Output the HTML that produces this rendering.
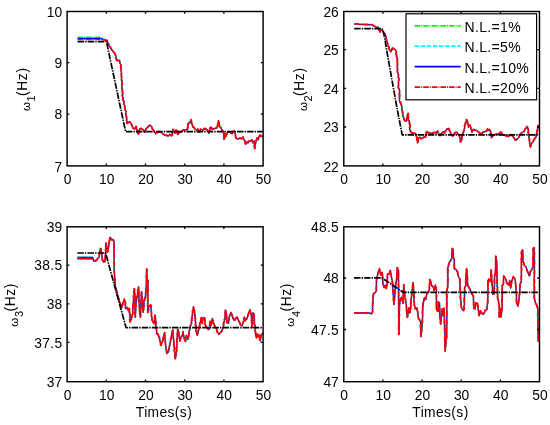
<!DOCTYPE html>
<html lang="en">
<head>
<meta charset="utf-8">
<title>Figure</title>
<style>
html,body{margin:0;padding:0;background:#fff;}
body{width:550px;height:425px;overflow:hidden;position:relative;font-family:"Liberation Sans",sans-serif;}
</style>
</head>
<body>
<svg width="550" height="425" viewBox="0 0 550 425" style="display:block;position:absolute;left:0;top:0" font-family='"Liberation Sans", sans-serif' font-size="13.8" fill="#000">
<rect x="0" y="0" width="550" height="425" fill="#fff"/>
<g>
<polyline fill="none" stroke-linejoin="round" stroke-linecap="butt" stroke="#00ff00" stroke-width="1.4" stroke-dasharray="5.6 0.9 1.1 0.9" points="77.6,37.3 100.5,37.3 102.5,38.8 104.5,39.6"/>
<polyline fill="none" stroke-linejoin="round" stroke-linecap="butt" stroke="#00ffff" stroke-width="1.2" stroke-dasharray="4.5 1.6" points="77.6,38.4 101.0,38.4 104.0,38.8 105.5,39.8"/>
<polyline fill="none" stroke-linejoin="round" stroke-linecap="butt" stroke="#0000ff" stroke-width="1.4" points="77.6,38.5 101.0,38.5 103.0,39.7"/>
<polyline fill="none" stroke-linejoin="round" stroke-linecap="butt" stroke="#ff0000" stroke-width="1.35" stroke-dasharray="5.4 0.9 1.3 0.9" points="77.6,39.6 101.0,39.6 103.6,40.1"/>
<polyline fill="none" stroke-linejoin="round" stroke-linecap="butt" stroke="#00ff00" stroke-width="0.8" points="103.7,40.3 107.0,40.4 110.0,46.8 113.6,52.2 115.4,54.0 116.6,60.0 119.6,60.6 121.2,66.0 121.6,77.0 123.0,99.8 123.8,101.2 125.2,108.6 126.8,117.0 127.2,123.6 129.7,121.8 131.2,123.7 133.2,128.4 134.7,129.2 136.2,126.6 137.6,133.2 138.7,134.2 140.2,128.4 142.2,129.2 143.7,130.2 144.8,132.6 146.2,129.2 148.2,127.2 150.2,125.4 151.2,126.2 152.7,129.2 154.2,131.2 155.7,133.8 157.2,132.7 159.2,131.7 161.2,132.2 163.2,134.2 166.2,135.4 168.2,136.2 170.2,134.7 172.2,135.7 173.2,129.6 175.2,133.2 176.2,130.2 178.2,134.4 180.2,132.2 182.2,131.2 184.2,130.2 186.2,129.7 187.7,129.7 188.7,123.0 190.2,123.2 191.2,120.0 192.2,125.2 193.2,127.2 195.2,129.2 197.2,130.7 198.2,129.2 199.2,132.2 201.2,129.2 203.2,130.2 205.2,128.7 207.2,129.7 208.7,131.2 209.2,133.2 210.7,127.2 212.2,129.2 214.2,128.7 216.2,128.2 217.7,126.7 218.7,120.8 219.7,126.2 221.2,128.2 222.7,130.7 223.7,132.2 224.2,139.2 225.2,134.2 226.2,136.2 227.2,133.2 228.7,131.7 230.2,132.7 232.2,133.7 233.7,131.2 234.7,131.2 235.7,137.2 236.7,138.7 238.2,139.2 240.2,138.2 242.2,138.7 243.2,137.2 244.2,140.2 245.2,141.2 245.7,144.2 247.2,142.2 248.2,143.2 249.2,141.2 251.2,141.2 252.2,140.2 253.2,143.2 254.2,141.2 254.8,148.7 255.7,143.2 256.1,141.2 257.1,138.2 258.1,140.2 259.1,137.2 260.1,135.2 261.1,136.2 262.1,136.2 262.9,137.2"/>
<polyline fill="none" stroke-linejoin="round" stroke-linecap="butt" stroke="#00ffff" stroke-width="1.0" points="103.8,40.4 107.1,40.5 107.5,41.3 108.0,42.4 108.4,43.8 108.8,44.1 109.2,45.1 109.7,46.1 110.1,46.9 110.7,47.4 111.3,48.7 111.9,49.8 112.5,50.9 113.1,50.8 113.7,52.3 114.6,52.9 115.5,54.1 115.4,55.1 116.1,56.1 116.2,57.1 116.0,58.1 116.8,59.1 116.7,60.1 117.7,61.0 118.7,60.7 119.7,60.7 120.1,61.8 120.1,62.9 120.3,63.9 121.0,65.0 121.3,66.1 121.0,67.1 121.2,68.1 121.2,69.1 121.1,70.1 121.5,71.1 121.5,72.1 121.8,73.1 121.6,74.1 121.7,75.1 121.7,76.1 121.7,77.1 121.9,78.1 121.8,79.2 121.7,80.2 122.3,81.2 122.4,82.3 122.3,83.3 122.3,84.4 122.1,85.4 122.1,86.4 122.2,87.5 122.1,88.5 122.7,89.5 122.5,90.6 122.8,91.6 122.6,92.6 123.0,93.7 123.0,94.7 122.5,95.8 122.7,96.8 123.3,97.8 123.0,98.9 123.1,99.9 123.9,101.3 124.4,102.4 124.2,103.4 124.2,104.5 124.8,105.5 125.1,106.6 124.9,107.6 125.3,108.7 125.2,109.8 125.6,110.8 126.2,111.8 126.3,112.9 126.0,114.0 126.3,115.0 126.4,116.0 126.9,117.1 126.7,118.2 127.2,119.3 126.9,120.4 127.2,121.5 127.2,122.6 127.3,123.7 128.1,122.7 129.0,122.8 129.8,121.9 130.6,122.3 131.3,123.8 131.7,124.9 132.1,125.1 132.5,126.5 132.9,127.2 133.3,128.5 134.8,129.3 135.3,128.1 135.8,128.2 136.3,126.7 136.7,127.8 136.6,128.9 137.3,130.0 137.0,131.1 137.4,132.2 137.7,133.3 138.8,134.3 139.3,133.1 139.5,132.0 139.4,130.8 140.3,129.7 140.3,128.5 141.3,128.5 142.3,129.3 143.8,130.3 144.4,131.2 144.9,132.7 145.4,131.9 145.8,130.2 146.3,129.3 147.3,128.0 148.3,127.3 149.3,125.8 150.3,125.5 151.3,126.3 151.8,126.7 152.3,128.4 152.8,129.3 153.6,129.9 154.3,131.3 154.8,132.3 155.3,132.9 155.8,133.9 157.3,132.8 158.3,132.2 159.3,131.8 160.3,132.7 161.3,132.3 162.3,133.3 163.3,134.3 164.3,134.8 165.3,135.6 166.3,135.5 167.3,135.5 168.3,136.3 169.3,135.1 170.3,134.8 171.3,135.9 172.3,135.8 172.7,134.8 172.5,133.8 172.6,132.8 173.1,131.7 173.4,130.7 173.3,129.7 173.8,130.2 174.3,132.1 174.8,132.9 175.3,133.3 175.6,132.4 176.0,131.2 176.3,130.3 176.8,130.8 177.3,131.8 177.8,134.1 178.3,134.5 179.3,133.0 180.3,132.3 181.3,132.1 182.3,131.3 183.3,130.5 184.3,130.3 185.3,130.5 186.3,129.8 187.8,129.8 188.0,128.7 188.0,127.6 188.1,126.5 188.6,125.3 188.3,124.2 188.8,123.1 190.3,123.3 190.4,122.2 191.0,121.2 191.3,120.1 191.7,121.1 191.8,122.2 191.7,123.2 192.4,124.3 192.3,125.3 192.8,125.9 193.3,127.3 194.3,127.6 195.3,129.3 196.3,129.7 197.3,130.8 198.3,129.3 198.6,130.2 199.0,130.7 199.3,132.3 200.0,130.8 200.6,130.1 201.3,129.3 202.3,129.9 203.3,130.3 204.3,129.0 205.3,128.8 206.3,129.1 207.3,129.8 208.1,131.1 208.8,131.3 209.4,132.3 209.3,133.3 209.7,132.3 209.9,131.3 210.1,130.3 210.0,129.3 210.2,128.3 210.8,127.3 211.6,127.6 212.3,129.3 213.3,129.6 214.3,128.8 215.3,128.8 216.3,128.3 217.1,128.2 217.8,126.8 217.7,125.6 218.3,124.4 218.4,123.3 218.8,122.1 218.8,120.9 218.9,122.0 219.5,123.1 219.1,124.1 219.6,125.2 219.8,126.3 220.6,127.6 221.3,128.3 222.1,130.1 222.8,130.8 223.8,132.3 224.0,133.3 224.1,134.3 224.2,135.3 224.4,136.3 224.1,137.3 224.4,138.3 224.3,139.3 224.8,138.3 225.0,137.3 224.8,136.3 225.3,135.3 225.3,134.3 225.8,135.8 226.3,136.3 226.6,135.4 227.0,134.5 227.3,133.3 228.1,132.4 228.8,131.8 230.3,132.8 231.3,133.4 232.3,133.8 233.1,132.7 233.8,131.3 234.8,131.3 234.7,132.3 235.2,133.3 235.6,134.3 235.7,135.3 235.8,136.3 235.8,137.3 236.8,138.8 238.3,139.3 239.3,138.6 240.3,138.3 241.3,138.9 242.3,138.8 243.3,137.3 243.6,138.4 244.0,139.2 244.3,140.3 245.3,141.3 245.7,142.3 245.3,143.3 245.8,144.3 246.6,143.7 247.3,142.3 248.3,143.3 248.8,141.6 249.3,141.3 250.3,141.4 251.3,141.3 252.3,140.3 252.6,141.3 253.0,141.9 253.3,143.3 253.8,142.6 254.3,141.3 254.4,142.4 254.6,143.4 254.9,144.5 254.5,145.6 254.5,146.7 254.8,147.7 255.0,148.8 255.3,147.7 255.1,146.6 255.2,145.5 255.9,144.4 255.8,143.3 256.2,142.3 256.3,141.3 256.6,140.2 257.0,139.8 257.3,138.3 257.8,139.1 258.3,140.3 258.6,139.5 259.0,137.9 259.3,137.3 259.8,136.2 260.3,135.3 261.3,136.3 262.3,136.3 263.1,137.3"/>
<polyline fill="none" stroke-linejoin="round" stroke-linecap="butt" stroke="#0000ff" stroke-width="1.1" points="103.5,40.1 106.8,40.2 107.2,41.1 107.7,42.2 108.1,43.6 108.5,43.9 108.9,44.8 109.4,45.9 109.8,46.6 110.4,47.1 111.0,48.5 111.6,49.5 112.2,50.7 112.8,50.6 113.4,52.0 114.3,52.7 115.2,53.8 115.1,54.8 115.8,55.8 115.9,56.8 115.7,57.8 116.5,58.8 116.4,59.8 117.4,60.7 118.4,60.5 119.4,60.4 119.8,61.5 119.8,62.6 120.0,63.7 120.7,64.8 121.0,65.8 120.7,66.8 120.9,67.8 120.9,68.8 120.8,69.8 121.2,70.8 121.2,71.8 121.5,72.8 121.3,73.8 121.4,74.8 121.4,75.8 121.4,76.8 121.6,77.9 121.5,78.9 121.4,80.0 122.0,81.0 122.1,82.0 122.0,83.1 122.0,84.1 121.8,85.1 121.8,86.2 121.9,87.2 121.8,88.2 122.4,89.3 122.2,90.3 122.5,91.4 122.3,92.4 122.7,93.4 122.7,94.5 122.2,95.5 122.4,96.5 123.0,97.6 122.7,98.6 122.8,99.6 123.6,101.0 124.1,102.1 123.9,103.2 123.9,104.2 124.5,105.3 124.8,106.3 124.6,107.4 125.0,108.5 124.9,109.5 125.3,110.5 125.9,111.6 126.0,112.6 125.7,113.7 126.0,114.8 126.1,115.8 126.6,116.8 126.4,118.0 126.9,119.0 126.6,120.1 126.9,121.2 126.9,122.4 127.0,123.5 127.8,122.4 128.7,122.6 129.5,121.6 130.2,122.1 131.0,123.5 131.4,124.7 131.8,124.9 132.2,126.3 132.6,126.9 133.0,128.2 134.5,129.1 135.0,127.9 135.5,128.0 136.0,126.5 136.4,127.5 136.3,128.7 137.0,129.8 136.7,130.9 137.1,132.0 137.4,133.1 138.5,134.1 139.0,132.9 139.2,131.7 139.1,130.6 140.0,129.4 140.0,128.2 141.0,128.2 142.0,129.1 143.5,130.1 144.1,130.9 144.6,132.5 145.1,131.7 145.5,129.9 146.0,129.1 147.0,127.8 148.0,127.0 149.0,125.6 150.0,125.2 151.0,126.0 151.5,126.5 152.0,128.2 152.5,129.1 153.2,129.7 154.0,131.1 154.5,132.1 155.0,132.6 155.5,133.7 157.0,132.6 158.0,132.0 159.0,131.6 160.0,132.4 161.0,132.1 162.0,133.0 163.0,134.1 164.0,134.6 165.0,135.4 166.0,135.2 167.0,135.2 168.0,136.1 169.0,134.8 170.0,134.6 171.0,135.6 172.0,135.6 172.4,134.5 172.2,133.5 172.3,132.5 172.8,131.5 173.1,130.5 173.0,129.5 173.5,129.9 174.0,131.9 174.5,132.7 175.0,133.1 175.3,132.2 175.7,130.9 176.0,130.1 176.5,130.5 177.0,131.5 177.5,133.8 178.0,134.2 179.0,132.8 180.0,132.1 181.0,131.8 182.0,131.1 183.0,130.2 184.0,130.1 185.0,130.3 186.0,129.6 187.5,129.6 187.7,128.4 187.7,127.3 187.8,126.2 188.3,125.1 188.0,124.0 188.5,122.8 190.0,123.0 190.1,122.0 190.7,120.9 191.0,119.8 191.4,120.9 191.5,121.9 191.4,123.0 192.1,124.0 192.0,125.0 192.5,125.6 193.0,127.0 194.0,127.4 195.0,129.1 196.0,129.5 197.0,130.6 198.0,129.1 198.3,130.0 198.7,130.4 199.0,132.1 199.7,130.6 200.3,129.9 201.0,129.1 202.0,129.7 203.0,130.1 204.0,128.8 205.0,128.6 206.0,128.9 207.0,129.6 207.8,130.8 208.5,131.1 209.1,132.1 209.0,133.1 209.4,132.1 209.6,131.1 209.8,130.1 209.7,129.1 209.9,128.1 210.5,127.0 211.2,127.4 212.0,129.1 213.0,129.4 214.0,128.6 215.0,128.6 216.0,128.1 216.8,127.9 217.5,126.5 217.4,125.4 218.0,124.2 218.1,123.0 218.5,121.8 218.5,120.6 218.6,121.7 219.2,122.8 218.8,123.9 219.3,125.0 219.5,126.0 220.2,127.4 221.0,128.1 221.8,129.9 222.5,130.6 223.5,132.1 223.7,133.1 223.8,134.1 223.9,135.1 224.1,136.1 223.8,137.1 224.1,138.1 224.0,139.1 224.5,138.1 224.7,137.1 224.5,136.1 225.0,135.1 225.0,134.1 225.5,135.6 226.0,136.1 226.3,135.2 226.7,134.2 227.0,133.1 227.8,132.1 228.5,131.6 230.0,132.6 231.0,133.2 232.0,133.6 232.8,132.5 233.5,131.1 234.5,131.1 234.4,132.1 234.9,133.1 235.3,134.1 235.4,135.1 235.5,136.1 235.5,137.1 236.5,138.6 238.0,139.1 239.0,138.4 240.0,138.1 241.0,138.6 242.0,138.6 243.0,137.1 243.3,138.2 243.7,139.0 244.0,140.1 245.0,141.1 245.4,142.1 245.0,143.1 245.5,144.1 246.2,143.4 247.0,142.1 248.0,143.1 248.5,141.4 249.0,141.1 250.0,141.2 251.0,141.1 252.0,140.1 252.3,141.0 252.7,141.7 253.0,143.1 253.5,142.3 254.0,141.1 254.1,142.1 254.3,143.2 254.6,144.3 254.2,145.3 254.2,146.4 254.5,147.5 254.7,148.6 255.0,147.5 254.8,146.4 254.9,145.2 255.6,144.2 255.5,143.1 255.9,142.1 256.0,141.1 256.3,140.0 256.7,139.6 257.0,138.1 257.5,138.8 258.0,140.1 258.3,139.3 258.7,137.6 259.0,137.1 259.5,136.0 260.0,135.1 261.0,136.1 262.0,136.1 262.8,137.1"/>
<polyline fill="none" stroke-linejoin="round" stroke-linecap="butt" stroke="#ff0000" stroke-width="1.85" stroke-dasharray="5.4 0.9 1.3 0.9" points="103.5,40.1 106.8,40.2 107.2,41.0 107.7,42.1 108.1,43.5 108.5,43.8 108.9,44.8 109.4,45.8 109.8,46.6 110.4,47.1 111.0,48.4 111.6,49.5 112.2,50.6 112.8,50.5 113.4,52.0 114.3,52.6 115.2,53.8 115.1,54.8 115.8,55.8 115.9,56.8 115.7,57.8 116.5,58.8 116.4,59.8 117.4,60.7 118.4,60.4 119.4,60.4 119.8,61.5 119.8,62.6 120.0,63.6 120.7,64.7 121.0,65.8 120.7,66.8 120.9,67.8 120.9,68.8 120.8,69.8 121.2,70.8 121.2,71.8 121.5,72.8 121.3,73.8 121.4,74.8 121.4,75.8 121.4,76.8 121.6,77.8 121.5,78.9 121.4,79.9 122.0,80.9 122.1,82.0 122.0,83.0 122.0,84.1 121.8,85.1 121.8,86.1 121.9,87.2 121.8,88.2 122.4,89.2 122.2,90.3 122.5,91.3 122.3,92.3 122.7,93.4 122.7,94.4 122.2,95.5 122.4,96.5 123.0,97.5 122.7,98.6 122.8,99.6 123.6,101.0 124.1,102.1 123.9,103.1 123.9,104.2 124.5,105.2 124.8,106.3 124.6,107.3 125.0,108.4 124.9,109.5 125.3,110.5 125.9,111.5 126.0,112.6 125.7,113.7 126.0,114.7 126.1,115.8 126.6,116.8 126.4,117.9 126.9,119.0 126.6,120.1 126.9,121.2 126.9,122.3 127.0,123.4 127.8,122.4 128.7,122.5 129.5,121.6 130.2,122.0 131.0,123.5 131.4,124.6 131.8,124.8 132.2,126.2 132.6,126.9 133.0,128.2 134.5,129.0 135.0,127.8 135.5,127.9 136.0,126.4 136.4,127.5 136.3,128.6 137.0,129.7 136.7,130.8 137.1,131.9 137.4,133.0 138.5,134.0 139.0,132.8 139.2,131.7 139.1,130.5 140.0,129.4 140.0,128.2 141.0,128.2 142.0,129.0 143.5,130.0 144.1,130.9 144.6,132.4 145.1,131.6 145.5,129.9 146.0,129.0 147.0,127.7 148.0,127.0 149.0,125.5 150.0,125.2 151.0,126.0 151.5,126.4 152.0,128.1 152.5,129.0 153.2,129.6 154.0,131.0 154.5,132.0 155.0,132.6 155.5,133.6 157.0,132.5 158.0,131.9 159.0,131.5 160.0,132.4 161.0,132.0 162.0,133.0 163.0,134.0 164.0,134.5 165.0,135.3 166.0,135.2 167.0,135.2 168.0,136.0 169.0,134.8 170.0,134.5 171.0,135.6 172.0,135.5 172.4,134.5 172.2,133.5 172.3,132.4 172.8,131.4 173.1,130.4 173.0,129.4 173.5,129.9 174.0,131.8 174.5,132.6 175.0,133.0 175.3,132.1 175.7,130.9 176.0,130.0 176.5,130.5 177.0,131.5 177.5,133.8 178.0,134.2 179.0,132.7 180.0,132.0 181.0,131.8 182.0,131.0 183.0,130.2 184.0,130.0 185.0,130.2 186.0,129.5 187.5,129.5 187.7,128.4 187.7,127.3 187.8,126.2 188.3,125.0 188.0,123.9 188.5,122.8 190.0,123.0 190.1,121.9 190.7,120.9 191.0,119.8 191.4,120.8 191.5,121.9 191.4,122.9 192.1,124.0 192.0,125.0 192.5,125.6 193.0,127.0 194.0,127.3 195.0,129.0 196.0,129.4 197.0,130.5 198.0,129.0 198.3,129.9 198.7,130.4 199.0,132.0 199.7,130.5 200.3,129.8 201.0,129.0 202.0,129.6 203.0,130.0 204.0,128.7 205.0,128.5 206.0,128.8 207.0,129.5 207.8,130.8 208.5,131.0 209.1,132.0 209.0,133.0 209.4,132.0 209.6,131.0 209.8,130.0 209.7,129.0 209.9,128.0 210.5,127.0 211.2,127.3 212.0,129.0 213.0,129.3 214.0,128.5 215.0,128.5 216.0,128.0 216.8,127.9 217.5,126.5 217.4,125.3 218.0,124.1 218.1,123.0 218.5,121.8 218.5,120.6 218.6,121.7 219.2,122.8 218.8,123.8 219.3,124.9 219.5,126.0 220.2,127.3 221.0,128.0 221.8,129.8 222.5,130.5 223.5,132.0 223.7,133.0 223.8,134.0 223.9,135.0 224.1,136.0 223.8,137.0 224.1,138.0 224.0,139.0 224.5,138.0 224.7,137.0 224.5,136.0 225.0,135.0 225.0,134.0 225.5,135.5 226.0,136.0 226.3,135.1 226.7,134.2 227.0,133.0 227.8,132.1 228.5,131.5 230.0,132.5 231.0,133.1 232.0,133.5 232.8,132.4 233.5,131.0 234.5,131.0 234.4,132.0 234.9,133.0 235.3,134.0 235.4,135.0 235.5,136.0 235.5,137.0 236.5,138.5 238.0,139.0 239.0,138.3 240.0,138.0 241.0,138.6 242.0,138.5 243.0,137.0 243.3,138.1 243.7,138.9 244.0,140.0 245.0,141.0 245.4,142.0 245.0,143.0 245.5,144.0 246.2,143.4 247.0,142.0 248.0,143.0 248.5,141.3 249.0,141.0 250.0,141.1 251.0,141.0 252.0,140.0 252.3,141.0 252.7,141.6 253.0,143.0 253.5,142.3 254.0,141.0 254.1,142.1 254.3,143.1 254.6,144.2 254.2,145.3 254.2,146.4 254.5,147.4 254.7,148.5 255.0,147.4 254.8,146.3 254.9,145.2 255.6,144.1 255.5,143.0 255.9,142.0 256.0,141.0 256.3,139.9 256.7,139.5 257.0,138.0 257.5,138.8 258.0,140.0 258.3,139.2 258.7,137.6 259.0,137.0 259.5,135.9 260.0,135.0 261.0,136.0 262.0,136.0 262.8,137.0"/>
<polyline fill="none" stroke-linejoin="round" stroke-linecap="butt" stroke="#000" stroke-width="1.7" stroke-dasharray="6.5 1.1 1.4 1.1" points="77.6,41.7 106.5,41.7 125.6,131.7 262.8,131.7"/>
<rect x="67.1" y="11.5" width="196.00000000000003" height="154.4" fill="none" stroke="#000" stroke-width="1.45"/>
<path d="M106.3 165.9v-2.3M106.3 11.5v2.3M145.5 165.9v-2.3M145.5 11.5v2.3M184.7 165.9v-2.3M184.7 11.5v2.3M223.9 165.9v-2.3M223.9 11.5v2.3M67.1 62.6h2.3M263.1 62.6h-2.3M67.1 114.1h2.3M263.1 114.1h-2.3" stroke="#000" stroke-width="1.3" fill="none"/>
<text x="67.5" y="183.7" text-anchor="middle">0</text>
<text x="106.7" y="183.7" text-anchor="middle">10</text>
<text x="145.9" y="183.7" text-anchor="middle">20</text>
<text x="185.1" y="183.7" text-anchor="middle">30</text>
<text x="224.3" y="183.7" text-anchor="middle">40</text>
<text x="263.5" y="183.7" text-anchor="middle">50</text>
<text x="62.1" y="16.7" text-anchor="end">10</text>
<text x="62.1" y="67.8" text-anchor="end">9</text>
<text x="62.1" y="119.3" text-anchor="end">8</text>
<text x="62.1" y="171.8" text-anchor="end">7</text>
<g transform="translate(26.9 110.8) rotate(-90)"><text x="-0.3" y="3" font-size="11.5">ω</text><text x="9.3" y="8.4" font-size="11">1</text><text x="14.8" y="0" letter-spacing="0.65">(Hz)</text></g>
</g>
<g>
<polyline fill="none" stroke-linejoin="round" stroke-linecap="butt" stroke="#00ff00" stroke-width="0.8" points="354.3,24.0 358.1,24.0 359.1,24.5 368.1,24.7 372.1,24.8 374.1,26.2 376.1,27.2 378.1,27.2 379.1,30.2 380.1,32.2 381.1,30.2 383.1,31.7 385.1,34.2 386.1,37.2 387.1,42.2 388.1,45.2 389.1,48.2 390.1,51.2 391.1,51.8 392.1,48.7 394.1,49.2 396.1,51.2 396.6,56.6 397.6,59.2 397.6,72.2 398.6,75.2 398.6,88.2 399.6,90.2 399.6,101.2 401.1,103.2 402.1,108.2 403.1,115.2 404.1,119.2 406.1,121.7 407.1,118.2 408.1,113.2 408.6,120.2 409.6,122.2 410.1,130.2 411.1,132.2 413.1,133.2 415.1,133.2 416.1,135.2 417.1,138.2 417.6,142.8 418.6,138.2 420.1,137.2 421.1,139.2 422.6,138.2 424.1,137.2 425.6,137.2 426.1,133.2 427.1,131.7 428.6,133.2 430.1,132.7 432.1,133.7 434.1,132.7 436.1,133.2 437.6,131.2 439.1,134.7 440.1,135.7 441.6,133.2 443.1,131.7 444.6,133.2 446.1,130.7 447.1,129.2 448.6,128.4 450.1,131.2 451.1,134.2 452.6,136.2 454.1,134.2 455.6,132.2 457.1,132.7 458.1,134.2 459.6,136.2 460.6,142.2 461.6,140.2 462.6,134.2 464.1,130.2 465.1,125.2 466.6,119.4 467.6,122.2 468.6,127.2 470.1,125.2 471.1,128.7 472.1,132.2 473.6,129.7 475.1,130.2 477.1,131.2 479.1,132.7 481.1,133.7 483.1,132.2 485.1,131.7 486.6,131.2 487.6,129.2 488.6,130.7 489.6,129.7 490.6,131.2 491.6,137.7 492.6,136.2 494.1,135.2 496.1,134.2 498.1,134.7 499.6,133.2 501.1,132.2 502.1,134.2 504.1,135.2 506.1,136.2 508.1,136.7 510.1,135.7 512.1,135.7 514.1,138.2 516.1,140.4 518.1,138.2 519.6,136.2 521.1,133.2 523.1,132.2 524.6,130.7 526.1,128.2 527.1,126.7 528.1,128.2 528.6,134.2 529.6,142.2 530.6,147.0 531.6,143.2 533.1,142.2 534.6,139.2 536.1,137.2 537.1,131.2 538.1,125.7 539.1,127.2"/>
<polyline fill="none" stroke-linejoin="round" stroke-linecap="butt" stroke="#00ffff" stroke-width="1.0" points="354.5,24.1 358.3,24.1 359.3,24.6 368.3,24.8 372.3,24.9 374.3,26.3 375.3,26.8 376.3,27.3 377.3,27.5 378.3,27.3 378.6,28.5 379.0,28.8 379.3,30.3 379.8,30.6 380.3,32.3 380.8,31.1 381.3,30.3 382.3,30.7 383.3,31.8 384.0,33.1 384.6,33.7 385.3,34.3 385.6,35.4 386.0,36.4 386.3,37.3 386.6,38.3 386.5,39.3 386.9,40.3 386.9,41.3 387.3,42.3 387.6,43.9 388.0,43.7 388.3,45.3 388.6,46.7 389.0,46.7 389.3,48.3 389.6,49.6 390.0,50.1 390.3,51.3 391.3,51.9 391.6,50.9 392.2,49.8 392.3,48.8 393.3,48.4 394.3,49.3 395.3,49.7 396.3,51.3 396.7,52.4 396.5,53.5 396.3,54.5 397.0,55.6 396.8,56.7 397.3,58.6 397.8,59.3 397.5,60.3 397.7,61.3 397.5,62.3 397.7,63.3 397.9,64.3 397.6,65.3 397.9,66.3 397.5,67.3 397.6,68.3 398.0,69.3 397.7,70.3 397.7,71.3 397.8,72.3 398.1,73.4 398.5,74.3 398.8,75.3 398.7,76.3 398.5,77.3 399.0,78.3 399.1,79.3 399.1,80.3 398.9,81.3 398.7,82.3 398.7,83.3 398.9,84.3 398.9,85.3 398.5,86.3 398.6,87.3 398.8,88.3 399.3,89.1 399.8,90.3 399.8,91.3 400.0,92.3 399.8,93.3 399.5,94.3 400.0,95.3 399.8,96.3 399.8,97.3 399.6,98.3 399.7,99.3 399.7,100.3 399.8,101.3 400.6,102.7 401.3,103.3 401.2,104.3 401.7,105.3 401.7,106.3 402.2,107.3 402.3,108.3 402.1,109.3 402.4,110.3 402.6,111.3 403.0,112.3 402.7,113.3 403.1,114.3 403.3,115.3 403.3,116.3 403.6,117.3 404.0,118.3 404.3,119.3 405.0,120.8 405.6,120.9 406.3,121.8 407.0,120.6 406.7,119.5 407.3,118.3 407.8,117.3 407.6,116.3 407.7,115.3 408.3,114.3 408.3,113.3 408.7,114.3 408.1,115.3 408.4,116.3 408.8,117.3 408.5,118.3 408.5,119.3 408.8,120.3 409.3,120.6 409.8,122.3 409.5,123.3 410.0,124.3 410.3,125.3 410.4,126.3 410.1,127.3 409.8,128.3 410.1,129.3 410.3,130.3 410.8,131.7 411.3,132.3 412.3,133.3 413.3,133.3 414.3,133.5 415.3,133.3 415.8,133.9 416.3,135.3 416.6,136.3 417.0,137.3 417.3,138.3 417.5,139.5 417.4,140.6 418.0,141.8 417.8,142.9 418.3,141.8 418.1,140.6 418.4,139.5 418.8,138.3 420.3,137.3 420.8,138.8 421.3,139.3 422.8,138.3 424.3,137.3 425.8,137.3 425.8,136.3 426.4,135.3 426.2,134.3 426.3,133.3 427.3,131.8 428.1,132.8 428.8,133.3 430.3,132.8 431.3,133.6 432.3,133.8 433.3,132.9 434.3,132.8 435.3,132.7 436.3,133.3 437.1,132.0 437.8,131.3 438.3,132.7 438.8,133.9 439.3,134.8 440.3,135.8 441.1,134.0 441.8,133.3 442.6,133.1 443.3,131.8 444.1,132.4 444.8,133.3 445.6,131.7 446.3,130.8 447.3,129.3 448.8,128.5 449.3,129.3 449.8,131.0 450.3,131.3 450.6,132.4 451.0,133.5 451.3,134.3 452.1,135.9 452.8,136.3 453.6,135.9 454.3,134.3 455.1,133.7 455.8,132.3 457.3,132.8 458.3,134.3 459.1,135.2 459.8,136.3 460.0,137.3 460.4,138.3 460.5,139.3 460.5,140.3 460.5,141.3 460.8,142.3 461.3,141.1 461.8,140.3 462.1,139.3 462.2,138.3 462.0,137.3 462.6,136.3 462.9,135.3 462.8,134.3 463.2,133.7 463.6,132.9 463.9,131.9 464.3,130.3 464.5,129.3 464.9,128.3 464.8,127.3 464.8,126.3 465.3,125.3 465.5,124.1 465.8,123.0 466.5,121.8 466.6,120.7 466.8,119.5 467.3,121.0 467.8,122.3 468.1,123.3 467.9,124.3 468.4,125.3 468.7,126.3 468.8,127.3 469.6,126.2 470.3,125.3 470.5,126.5 470.9,127.6 471.3,128.8 471.5,130.0 472.1,131.1 472.3,132.3 473.1,130.5 473.8,129.8 475.3,130.3 476.3,130.2 477.3,131.3 478.3,131.8 479.3,132.8 480.3,133.6 481.3,133.8 482.3,133.4 483.3,132.3 484.3,132.3 485.3,131.8 486.8,131.3 487.3,130.9 487.8,129.3 488.8,130.8 489.8,129.8 490.8,131.3 490.9,132.4 490.8,133.5 491.3,134.6 491.4,135.6 491.4,136.7 491.8,137.8 492.8,136.3 494.3,135.3 495.3,135.0 496.3,134.3 497.3,134.3 498.3,134.8 499.1,133.7 499.8,133.3 501.3,132.3 501.8,133.1 502.3,134.3 503.3,135.4 504.3,135.3 505.3,135.1 506.3,136.3 507.3,136.4 508.3,136.8 509.3,136.0 510.3,135.8 511.3,135.4 512.3,135.8 513.0,136.5 513.6,137.1 514.3,138.3 515.3,140.0 516.3,140.5 517.3,139.4 518.3,138.3 519.0,137.6 519.8,136.3 520.3,134.8 520.8,134.3 521.3,133.3 522.3,132.9 523.3,132.3 524.0,132.0 524.8,130.8 525.5,129.2 526.3,128.3 527.3,126.8 528.3,128.3 528.4,129.3 528.7,130.3 528.8,131.3 528.4,132.3 528.7,133.3 528.8,134.3 529.1,135.3 529.0,136.3 529.3,137.3 529.4,138.3 529.8,139.3 529.6,140.3 529.8,141.3 529.8,142.3 529.9,143.5 530.5,144.7 530.4,145.9 530.8,147.1 531.1,145.8 531.4,144.6 531.8,143.3 533.3,142.3 533.8,141.0 534.3,139.8 534.8,139.3 535.5,137.9 536.3,137.3 536.5,136.3 536.5,135.3 536.5,134.3 537.2,133.3 537.0,132.3 537.3,131.3 537.8,130.2 537.8,129.1 537.8,128.0 538.4,126.9 538.3,125.8 539.3,127.3"/>
<polyline fill="none" stroke-linejoin="round" stroke-linecap="butt" stroke="#0000ff" stroke-width="1.1" points="354.2,23.9 358.0,23.9 359.0,24.4 368.0,24.6 372.0,24.7 374.0,26.1 375.0,26.5 376.0,27.1 377.0,27.3 378.0,27.1 378.3,28.3 378.7,28.5 379.0,30.1 379.5,30.4 380.0,32.0 380.5,30.9 381.0,30.1 382.0,30.5 383.0,31.6 383.7,32.8 384.3,33.5 385.0,34.0 385.3,35.2 385.7,36.1 386.0,37.0 386.3,38.0 386.2,39.0 386.6,40.0 386.6,41.0 387.0,42.0 387.3,43.6 387.7,43.4 388.0,45.0 388.3,46.5 388.7,46.5 389.0,48.0 389.3,49.3 389.7,49.8 390.0,51.0 391.0,51.6 391.3,50.6 391.9,49.6 392.0,48.5 393.0,48.1 394.0,49.0 395.0,49.4 396.0,51.0 396.4,52.1 396.2,53.2 396.0,54.3 396.7,55.4 396.5,56.4 397.0,58.4 397.5,59.0 397.2,60.0 397.4,61.0 397.2,62.0 397.4,63.0 397.6,64.0 397.3,65.0 397.6,66.0 397.2,67.0 397.3,68.0 397.7,69.0 397.4,70.0 397.4,71.0 397.5,72.0 397.8,73.2 398.2,74.0 398.5,75.0 398.4,76.0 398.2,77.0 398.7,78.0 398.8,79.0 398.8,80.0 398.6,81.0 398.4,82.0 398.4,83.0 398.6,84.0 398.6,85.0 398.2,86.0 398.3,87.0 398.5,88.0 399.0,88.9 399.5,90.0 399.5,91.0 399.7,92.0 399.5,93.0 399.2,94.0 399.7,95.0 399.5,96.0 399.5,97.0 399.3,98.0 399.4,99.0 399.4,100.0 399.5,101.0 400.2,102.4 401.0,103.0 400.9,104.0 401.4,105.0 401.4,106.0 401.9,107.0 402.0,108.0 401.8,109.0 402.1,110.0 402.3,111.0 402.7,112.0 402.4,113.0 402.8,114.0 403.0,115.0 403.0,116.0 403.3,117.0 403.7,118.0 404.0,119.0 404.7,120.5 405.3,120.7 406.0,121.5 406.7,120.4 406.4,119.2 407.0,118.0 407.5,117.0 407.3,116.0 407.4,115.0 408.0,114.0 408.0,113.0 408.4,114.0 407.8,115.0 408.1,116.0 408.5,117.0 408.2,118.0 408.2,119.0 408.5,120.0 409.0,120.4 409.5,122.0 409.2,123.0 409.7,124.0 410.0,125.0 410.1,126.0 409.8,127.0 409.5,128.1 409.8,129.1 410.0,130.1 410.5,131.5 411.0,132.1 412.0,133.0 413.0,133.1 414.0,133.2 415.0,133.1 415.5,133.7 416.0,135.1 416.3,136.1 416.7,137.0 417.0,138.1 417.2,139.2 417.1,140.4 417.7,141.5 417.5,142.7 418.0,141.5 417.8,140.4 418.1,139.2 418.5,138.1 420.0,137.1 420.5,138.6 421.0,139.1 422.5,138.1 424.0,137.1 425.5,137.1 425.5,136.1 426.1,135.1 425.9,134.1 426.0,133.1 427.0,131.6 427.8,132.6 428.5,133.1 430.0,132.6 431.0,133.3 432.0,133.6 433.0,132.6 434.0,132.6 435.0,132.5 436.0,133.1 436.8,131.7 437.5,131.1 438.0,132.5 438.5,133.7 439.0,134.6 440.0,135.6 440.8,133.8 441.5,133.1 442.2,132.8 443.0,131.6 443.8,132.2 444.5,133.1 445.2,131.4 446.0,130.6 447.0,129.1 448.5,128.2 449.0,129.1 449.5,130.8 450.0,131.1 450.3,132.1 450.7,133.2 451.0,134.1 451.8,135.6 452.5,136.1 453.2,135.7 454.0,134.1 454.8,133.4 455.5,132.1 457.0,132.6 458.0,134.1 458.8,134.9 459.5,136.1 459.7,137.1 460.1,138.1 460.2,139.1 460.2,140.1 460.2,141.1 460.5,142.1 461.0,140.9 461.5,140.1 461.8,139.1 461.9,138.1 461.7,137.1 462.3,136.1 462.6,135.1 462.5,134.1 462.9,133.5 463.2,132.6 463.6,131.6 464.0,130.1 464.2,129.1 464.6,128.1 464.5,127.0 464.5,126.0 465.0,125.0 465.2,123.9 465.5,122.7 466.2,121.6 466.3,120.4 466.5,119.2 467.0,120.7 467.5,122.0 467.8,123.0 467.6,124.0 468.1,125.0 468.4,126.0 468.5,127.0 469.2,125.9 470.0,125.0 470.2,126.2 470.6,127.4 471.0,128.6 471.2,129.7 471.8,130.9 472.0,132.1 472.8,130.3 473.5,129.6 475.0,130.1 476.0,130.0 477.0,131.1 478.0,131.5 479.0,132.6 480.0,133.3 481.0,133.6 482.0,133.2 483.0,132.1 484.0,132.0 485.0,131.6 486.5,131.1 487.0,130.7 487.5,129.1 488.5,130.6 489.5,129.6 490.5,131.1 490.6,132.1 490.5,133.2 491.0,134.3 491.1,135.4 491.1,136.5 491.5,137.6 492.5,136.1 494.0,135.1 495.0,134.8 496.0,134.1 497.0,134.1 498.0,134.6 498.8,133.4 499.5,133.1 501.0,132.1 501.5,132.8 502.0,134.1 503.0,135.2 504.0,135.1 505.0,134.9 506.0,136.1 507.0,136.1 508.0,136.6 509.0,135.7 510.0,135.6 511.0,135.1 512.0,135.6 512.7,136.3 513.3,136.8 514.0,138.1 515.0,139.7 516.0,140.2 517.0,139.2 518.0,138.1 518.8,137.3 519.5,136.1 520.0,134.6 520.5,134.0 521.0,133.1 522.0,132.7 523.0,132.1 523.8,131.8 524.5,130.6 525.2,128.9 526.0,128.1 527.0,126.5 528.0,128.1 528.1,129.1 528.4,130.1 528.5,131.1 528.1,132.1 528.4,133.1 528.5,134.1 528.8,135.1 528.7,136.1 529.0,137.1 529.1,138.1 529.5,139.1 529.3,140.1 529.5,141.1 529.5,142.1 529.6,143.2 530.2,144.5 530.1,145.7 530.5,146.9 530.8,145.6 531.1,144.3 531.5,143.1 533.0,142.1 533.5,140.8 534.0,139.5 534.5,139.1 535.2,137.7 536.0,137.1 536.2,136.1 536.2,135.1 536.2,134.1 536.9,133.1 536.7,132.1 537.0,131.1 537.5,130.0 537.5,128.9 537.5,127.8 538.1,126.6 538.0,125.5 539.0,127.0"/>
<polyline fill="none" stroke-linejoin="round" stroke-linecap="butt" stroke="#ff0000" stroke-width="1.85" stroke-dasharray="5.4 0.9 1.3 0.9" points="354.2,23.8 358.0,23.8 359.0,24.3 368.0,24.5 372.0,24.6 374.0,26.0 375.0,26.5 376.0,27.0 377.0,27.2 378.0,27.0 378.3,28.2 378.7,28.5 379.0,30.0 379.5,30.3 380.0,32.0 380.5,30.8 381.0,30.0 382.0,30.4 383.0,31.5 383.7,32.8 384.3,33.4 385.0,34.0 385.3,35.1 385.7,36.1 386.0,37.0 386.3,38.0 386.2,39.0 386.6,40.0 386.6,41.0 387.0,42.0 387.3,43.6 387.7,43.4 388.0,45.0 388.3,46.4 388.7,46.4 389.0,48.0 389.3,49.3 389.7,49.8 390.0,51.0 391.0,51.6 391.3,50.6 391.9,49.5 392.0,48.5 393.0,48.1 394.0,49.0 395.0,49.4 396.0,51.0 396.4,52.1 396.2,53.2 396.0,54.2 396.7,55.3 396.5,56.4 397.0,58.3 397.5,59.0 397.2,60.0 397.4,61.0 397.2,62.0 397.4,63.0 397.6,64.0 397.3,65.0 397.6,66.0 397.2,67.0 397.3,68.0 397.7,69.0 397.4,70.0 397.4,71.0 397.5,72.0 397.8,73.1 398.2,74.0 398.5,75.0 398.4,76.0 398.2,77.0 398.7,78.0 398.8,79.0 398.8,80.0 398.6,81.0 398.4,82.0 398.4,83.0 398.6,84.0 398.6,85.0 398.2,86.0 398.3,87.0 398.5,88.0 399.0,88.8 399.5,90.0 399.5,91.0 399.7,92.0 399.5,93.0 399.2,94.0 399.7,95.0 399.5,96.0 399.5,97.0 399.3,98.0 399.4,99.0 399.4,100.0 399.5,101.0 400.2,102.4 401.0,103.0 400.9,104.0 401.4,105.0 401.4,106.0 401.9,107.0 402.0,108.0 401.8,109.0 402.1,110.0 402.3,111.0 402.7,112.0 402.4,113.0 402.8,114.0 403.0,115.0 403.0,116.0 403.3,117.0 403.7,118.0 404.0,119.0 404.7,120.5 405.3,120.6 406.0,121.5 406.7,120.3 406.4,119.2 407.0,118.0 407.5,117.0 407.3,116.0 407.4,115.0 408.0,114.0 408.0,113.0 408.4,114.0 407.8,115.0 408.1,116.0 408.5,117.0 408.2,118.0 408.2,119.0 408.5,120.0 409.0,120.3 409.5,122.0 409.2,123.0 409.7,124.0 410.0,125.0 410.1,126.0 409.8,127.0 409.5,128.0 409.8,129.0 410.0,130.0 410.5,131.4 411.0,132.0 412.0,133.0 413.0,133.0 414.0,133.2 415.0,133.0 415.5,133.6 416.0,135.0 416.3,136.0 416.7,137.0 417.0,138.0 417.2,139.2 417.1,140.3 417.7,141.4 417.5,142.6 418.0,141.4 417.8,140.3 418.1,139.2 418.5,138.0 420.0,137.0 420.5,138.5 421.0,139.0 422.5,138.0 424.0,137.0 425.5,137.0 425.5,136.0 426.1,135.0 425.9,134.0 426.0,133.0 427.0,131.5 427.8,132.5 428.5,133.0 430.0,132.5 431.0,133.3 432.0,133.5 433.0,132.6 434.0,132.5 435.0,132.4 436.0,133.0 436.8,131.7 437.5,131.0 438.0,132.4 438.5,133.6 439.0,134.5 440.0,135.5 440.8,133.7 441.5,133.0 442.2,132.8 443.0,131.5 443.8,132.1 444.5,133.0 445.2,131.4 446.0,130.5 447.0,129.0 448.5,128.2 449.0,129.0 449.5,130.7 450.0,131.0 450.3,132.1 450.7,133.2 451.0,134.0 451.8,135.6 452.5,136.0 453.2,135.6 454.0,134.0 454.8,133.4 455.5,132.0 457.0,132.5 458.0,134.0 458.8,134.9 459.5,136.0 459.7,137.0 460.1,138.0 460.2,139.0 460.2,140.0 460.2,141.0 460.5,142.0 461.0,140.8 461.5,140.0 461.8,139.0 461.9,138.0 461.7,137.0 462.3,136.0 462.6,135.0 462.5,134.0 462.9,133.4 463.2,132.6 463.6,131.6 464.0,130.0 464.2,129.0 464.6,128.0 464.5,127.0 464.5,126.0 465.0,125.0 465.2,123.8 465.5,122.7 466.2,121.5 466.3,120.4 466.5,119.2 467.0,120.7 467.5,122.0 467.8,123.0 467.6,124.0 468.1,125.0 468.4,126.0 468.5,127.0 469.2,125.9 470.0,125.0 470.2,126.2 470.6,127.3 471.0,128.5 471.2,129.7 471.8,130.8 472.0,132.0 472.8,130.2 473.5,129.5 475.0,130.0 476.0,129.9 477.0,131.0 478.0,131.5 479.0,132.5 480.0,133.3 481.0,133.5 482.0,133.1 483.0,132.0 484.0,132.0 485.0,131.5 486.5,131.0 487.0,130.6 487.5,129.0 488.5,130.5 489.5,129.5 490.5,131.0 490.6,132.1 490.5,133.2 491.0,134.2 491.1,135.3 491.1,136.4 491.5,137.5 492.5,136.0 494.0,135.0 495.0,134.7 496.0,134.0 497.0,134.0 498.0,134.5 498.8,133.4 499.5,133.0 501.0,132.0 501.5,132.8 502.0,134.0 503.0,135.1 504.0,135.0 505.0,134.8 506.0,136.0 507.0,136.1 508.0,136.5 509.0,135.7 510.0,135.5 511.0,135.1 512.0,135.5 512.7,136.2 513.3,136.8 514.0,138.0 515.0,139.7 516.0,140.2 517.0,139.1 518.0,138.0 518.8,137.3 519.5,136.0 520.0,134.5 520.5,134.0 521.0,133.0 522.0,132.6 523.0,132.0 523.8,131.7 524.5,130.5 525.2,128.9 526.0,128.0 527.0,126.5 528.0,128.0 528.1,129.0 528.4,130.0 528.5,131.0 528.1,132.0 528.4,133.0 528.5,134.0 528.8,135.0 528.7,136.0 529.0,137.0 529.1,138.0 529.5,139.0 529.3,140.0 529.5,141.0 529.5,142.0 529.6,143.2 530.2,144.4 530.1,145.6 530.5,146.8 530.8,145.5 531.1,144.3 531.5,143.0 533.0,142.0 533.5,140.7 534.0,139.5 534.5,139.0 535.2,137.6 536.0,137.0 536.2,136.0 536.2,135.0 536.2,134.0 536.9,133.0 536.7,132.0 537.0,131.0 537.5,129.9 537.5,128.8 537.5,127.7 538.1,126.6 538.0,125.5 539.0,127.0"/>
<polyline fill="none" stroke-linejoin="round" stroke-linecap="butt" stroke="#000" stroke-width="1.7" stroke-dasharray="6.5 1.1 1.4 1.1" points="354.2,28.6 382.0,28.6 383.5,32.0 385.0,40.0 387.0,52.0 396.6,106.0 402.2,134.8 539.3,134.8"/>
<rect x="406" y="13.8" width="130.6" height="86" fill="#fff" stroke="#000" stroke-width="1.2"/>
<line x1="414.6" y1="25.9" x2="460.7" y2="25.9" stroke="#00ff00" stroke-width="1.7" stroke-dasharray="5.6 1 1 1"/>
<text x="464.5" y="31.8" font-size="14" letter-spacing="0.35">N.L.=1%</text>
<line x1="414.6" y1="46.2" x2="460.7" y2="46.2" stroke="#00ffff" stroke-width="1.7" stroke-dasharray="4.5 1.6"/>
<text x="464.5" y="52.1" font-size="14" letter-spacing="0.35">N.L.=5%</text>
<line x1="414.6" y1="66.6" x2="460.7" y2="66.6" stroke="#0000ff" stroke-width="1.7"/>
<text x="464.5" y="72.5" font-size="14" letter-spacing="0.35">N.L.=10%</text>
<line x1="414.6" y1="87.1" x2="460.7" y2="87.1" stroke="#ff0000" stroke-width="1.7" stroke-dasharray="5.6 1 1 1"/>
<text x="464.5" y="93.0" font-size="14" letter-spacing="0.35">N.L.=20%</text>
<rect x="343.8" y="11.5" width="195.7" height="154.4" fill="none" stroke="#000" stroke-width="1.45"/>
<path d="M382.9 165.9v-2.3M382.9 11.5v2.3M422.1 165.9v-2.3M422.1 11.5v2.3M461.2 165.9v-2.3M461.2 11.5v2.3M500.4 165.9v-2.3M500.4 11.5v2.3M343.8 49.7h2.3M539.5 49.7h-2.3M343.8 88.3h2.3M539.5 88.3h-2.3M343.8 127.0h2.3M539.5 127.0h-2.3" stroke="#000" stroke-width="1.3" fill="none"/>
<text x="344.2" y="183.7" text-anchor="middle">0</text>
<text x="383.3" y="183.7" text-anchor="middle">10</text>
<text x="422.5" y="183.7" text-anchor="middle">20</text>
<text x="461.6" y="183.7" text-anchor="middle">30</text>
<text x="500.8" y="183.7" text-anchor="middle">40</text>
<text x="539.9" y="183.7" text-anchor="middle">50</text>
<text x="338.8" y="16.7" text-anchor="end">26</text>
<text x="338.8" y="54.9" text-anchor="end">25</text>
<text x="338.8" y="93.5" text-anchor="end">24</text>
<text x="338.8" y="132.2" text-anchor="end">23</text>
<text x="338.8" y="171.8" text-anchor="end">22</text>
<g transform="translate(303.8 110.8) rotate(-90)"><text x="-0.3" y="3" font-size="11.5">ω</text><text x="9.3" y="8.4" font-size="11">2</text><text x="14.8" y="0" letter-spacing="0.65">(Hz)</text></g>
</g>
<g>
<polyline fill="none" stroke-linejoin="round" stroke-linecap="butt" stroke="#00ffff" stroke-width="1.1" points="77.4,257.1 92.3,257.1 93.3,258.7 94.0,260.7"/>
<polyline fill="none" stroke-linejoin="round" stroke-linecap="butt" stroke="#0000ff" stroke-width="1.4500000000000002" points="77.4,257.4 92.3,257.4 93.3,259.0 94.0,261.0"/>
<polyline fill="none" stroke-linejoin="round" stroke-linecap="butt" stroke="#00ff00" stroke-width="0.8" points="77.6,258.7 92.2,258.7 93.2,259.5 94.2,261.2 95.7,261.2 97.2,259.7 98.2,258.2 99.2,257.2 100.2,250.2 100.9,248.2 101.7,253.2 102.7,260.2 103.7,262.2 105.2,261.7 105.7,252.2 106.2,243.2 106.7,247.2 107.7,252.2 108.7,247.2 109.7,240.2 110.2,237.2 111.2,239.2 112.2,240.2 113.2,239.7 114.2,241.2 114.4,270.6 115.4,286.7 116.8,290.9 118.2,296.5 119.7,302.2 122.0,307.9 123.0,304.2 124.4,299.4 125.2,301.2 125.8,308.8 127.7,307.9 128.6,310.7 129.6,308.8 130.2,322.1 131.5,319.2 132.8,313.6 133.3,304.1 134.3,288.8 135.0,294.7 135.5,317.3 136.2,302.2 137.2,297.5 138.7,287.2 139.2,299.4 140.0,313.6 140.6,317.3 141.2,304.1 141.7,292.2 142.8,304.1 143.2,312.6 144.2,304.2 145.6,294.7 146.6,285.2 146.8,269.2 147.3,284.2 148.0,280.5 148.0,312.6 149.0,306.9 150.8,305.0 151.2,310.7 152.2,320.2 154.2,323.8 155.1,315.3 155.8,321.9 156.8,333.7 157.5,333.3 159.7,337.5 161.1,345.5 163.3,339.4 164.8,332.8 165.2,341.2 165.7,345.2 167.2,353.6 168.6,351.7 169.6,346.9 170.5,342.2 171.5,336.5 172.8,329.9 173.8,339.4 174.8,351.7 175.5,358.8 176.7,351.7 177.1,339.4 178.1,329.0 179.0,334.7 180.0,341.2 180.8,337.5 182.8,334.7 183.2,331.8 184.2,338.4 185.6,341.7 186.6,335.6 188.0,339.4 189.0,334.7 190.1,327.3 191.5,323.6 192.5,314.1 193.7,307.0 194.8,313.2 195.8,323.6 196.2,331.1 197.5,335.2 198.8,330.2 200.0,325.4 201.3,317.9 202.3,323.6 203.2,317.9 204.7,317.9 205.2,324.5 206.6,327.3 208.5,329.7 209.5,329.2 210.3,321.7 211.3,325.4 212.6,318.8 213.7,323.6 215.1,326.4 216.6,328.3 217.5,332.1 218.8,334.4 220.8,332.5 222.2,331.1 223.3,327.3 224.1,322.6 225.1,318.8 225.5,309.9 226.5,314.1 227.0,322.6 228.3,323.6 229.2,317.9 230.2,315.0 231.2,312.7 232.2,315.0 233.6,319.8 235.0,320.2 236.3,317.9 237.2,317.4 238.2,320.2 239.8,322.6 240.8,325.4 242.2,325.9 243.2,323.6 244.6,316.9 245.5,320.7 247.3,318.8 248.3,314.1 249.2,313.2 250.2,309.9 251.2,314.1 252.1,323.6 252.1,327.8 253.1,312.7 254.0,314.1 254.7,324.5 255.3,327.5 255.7,334.1 256.6,337.9 257.5,334.1 258.5,336.5 259.4,335.5 260.3,341.2 261.3,335.0 262.8,333.2"/>
<polyline fill="none" stroke-linejoin="round" stroke-linecap="butt" stroke="#00ffff" stroke-width="1.0" points="77.7,258.8 92.3,258.8 93.3,259.6 94.3,261.3 95.8,261.3 97.3,259.8 98.3,258.3 99.3,257.3 100.3,250.3 101.0,248.3 101.8,253.3 102.8,260.3 103.8,262.3 105.3,261.8 105.8,252.3 106.3,243.3 106.8,247.3 107.8,252.3 108.8,247.3 109.8,240.3 110.3,237.3 111.3,239.3 112.3,240.3 113.3,239.8 114.3,241.3 114.5,270.7 115.5,286.8 115.8,287.5 116.2,289.1 116.5,290.2 116.9,291.0 117.4,292.1 117.3,293.2 117.6,294.4 117.8,295.5 118.3,296.6 118.4,297.7 119.1,298.9 119.0,300.0 119.5,301.2 119.8,302.3 120.2,302.9 120.6,303.9 121.0,305.1 121.3,306.5 121.7,307.2 122.1,308.0 122.1,306.8 122.6,305.5 123.1,304.3 123.2,303.3 123.9,302.4 124.1,301.4 124.4,300.5 124.5,299.5 125.0,300.8 125.4,301.3 125.6,302.4 125.8,303.5 125.8,304.6 125.5,305.6 126.0,306.7 125.8,307.8 125.9,308.9 126.8,308.8 127.8,308.0 128.3,309.4 128.7,310.8 129.2,309.8 129.7,308.9 129.7,309.9 129.7,310.9 129.7,312.0 129.6,313.0 130.1,314.0 130.2,315.0 130.3,316.1 130.2,317.1 130.2,318.1 130.3,319.1 130.0,320.2 130.4,321.2 130.3,322.2 130.7,321.2 131.2,319.8 131.6,319.3 131.7,318.2 132.2,317.1 132.3,315.9 132.7,314.8 133.0,313.7 133.1,312.6 133.0,311.6 132.9,310.5 133.2,309.5 133.1,308.4 133.2,307.4 133.2,306.3 133.4,305.3 133.5,304.2 133.3,303.2 133.7,302.2 134.0,301.1 133.7,300.1 134.0,299.1 134.2,298.1 133.7,297.1 133.8,296.0 134.3,295.0 134.4,294.0 134.3,293.0 134.1,292.0 134.3,290.9 134.7,289.9 134.5,288.9 134.9,290.1 134.9,291.3 134.7,292.4 135.2,293.6 135.1,294.8 135.0,295.8 135.3,296.9 134.9,297.9 135.5,298.9 135.3,299.9 135.4,301.0 135.1,302.0 135.4,303.0 135.4,304.0 135.4,305.1 135.3,306.1 135.5,307.1 135.3,308.2 135.3,309.2 135.2,310.2 135.6,311.2 135.2,312.3 135.3,313.3 135.3,314.3 135.6,315.3 135.6,316.4 135.6,317.4 135.7,316.4 135.4,315.4 135.7,314.4 135.7,313.4 135.6,312.4 135.6,311.4 136.3,310.4 135.7,309.3 135.9,308.3 135.9,307.3 136.2,306.3 135.9,305.3 136.2,304.3 136.2,303.3 136.3,302.3 136.8,301.1 136.5,299.9 136.9,298.8 137.3,297.6 137.4,296.6 137.9,295.5 137.8,294.5 137.9,293.5 138.2,292.4 138.1,291.4 138.0,290.4 138.5,289.4 138.9,288.3 138.8,287.3 139.0,288.3 138.7,289.3 139.1,290.4 139.2,291.4 138.9,292.4 139.2,293.4 139.1,294.4 139.0,295.4 139.1,296.4 139.1,297.5 139.3,298.5 139.4,299.5 139.1,300.5 139.4,301.5 139.3,302.5 139.8,303.6 139.7,304.6 139.4,305.6 139.9,306.6 139.6,307.6 139.8,308.6 139.9,309.6 139.8,310.7 139.9,311.7 140.0,312.7 140.1,313.7 140.1,314.9 140.7,316.2 140.7,317.4 140.5,316.4 141.0,315.4 140.7,314.4 140.8,313.3 140.9,312.3 140.7,311.3 140.8,310.3 141.0,309.3 141.1,308.3 141.4,307.2 141.5,306.2 141.0,305.2 141.3,304.2 141.4,303.1 141.1,302.0 141.6,301.0 141.4,299.9 141.8,298.8 141.6,297.7 141.4,296.6 141.3,295.5 141.5,294.5 142.0,293.4 141.8,292.3 141.7,293.4 142.0,294.5 142.0,295.5 142.1,296.6 142.5,297.7 142.2,298.8 142.6,299.9 142.7,301.0 143.0,302.0 142.8,303.1 142.9,304.2 143.2,305.3 143.0,306.3 143.1,307.4 143.2,308.4 143.4,309.5 143.5,310.6 143.1,311.6 143.4,312.7 143.3,311.6 143.6,310.6 143.9,309.6 143.9,308.5 143.8,307.4 144.4,306.4 144.1,305.4 144.3,304.3 144.2,303.2 144.3,302.2 144.5,301.1 145.1,300.1 144.8,299.0 145.4,298.0 145.6,296.9 145.9,295.9 145.7,294.8 146.0,293.7 145.9,292.7 146.1,291.6 146.4,290.6 146.4,289.5 146.2,288.5 146.6,287.4 146.3,286.4 146.7,285.3 146.6,284.3 147.0,283.3 146.7,282.3 146.6,281.3 146.9,280.3 146.7,279.3 146.5,278.3 146.5,277.3 146.7,276.3 146.7,275.3 147.1,274.3 146.7,273.3 147.1,272.3 147.1,271.3 146.8,270.3 146.9,269.3 147.3,270.3 147.2,271.3 147.0,272.3 146.9,273.3 147.1,274.3 147.4,275.3 147.2,276.3 147.0,277.3 147.2,278.3 147.3,279.3 147.1,280.3 147.4,281.3 147.1,282.3 147.7,283.3 147.5,284.3 147.5,283.1 147.6,281.8 148.1,280.6 148.2,281.6 148.0,282.6 148.4,283.6 148.1,284.6 148.1,285.6 148.3,286.6 147.9,287.6 148.3,288.6 148.2,289.6 148.1,290.6 148.4,291.6 147.8,292.6 148.3,293.6 147.9,294.6 148.3,295.6 147.9,296.7 147.8,297.7 148.1,298.7 148.4,299.7 147.9,300.7 148.1,301.7 148.2,302.7 147.9,303.7 148.1,304.7 147.8,305.7 148.1,306.7 148.3,307.7 148.0,308.7 147.9,309.7 147.8,310.7 148.2,311.7 148.1,312.7 148.3,311.6 148.8,310.4 148.9,309.3 148.6,308.1 149.1,307.0 150.0,306.6 150.9,305.1 151.3,306.2 151.3,307.4 151.4,308.5 151.4,309.7 151.4,310.8 151.7,311.9 151.7,312.9 151.8,314.0 151.7,315.0 151.7,316.1 152.2,317.1 152.2,318.2 152.0,319.2 152.4,320.3 152.9,321.4 153.4,322.2 153.8,323.0 154.3,323.9 154.6,322.8 154.8,321.8 154.6,320.7 155.0,319.7 154.9,318.6 155.0,317.5 155.0,316.5 155.2,315.4 155.6,316.5 155.4,317.6 155.8,318.7 155.6,319.8 155.9,320.9 155.9,322.0 156.3,323.1 156.2,324.1 156.1,325.2 156.0,326.3 156.3,327.4 156.4,328.4 156.7,329.5 156.8,330.6 157.0,331.7 156.8,332.7 156.9,333.8 157.6,333.4 158.2,334.3 158.7,335.6 159.2,336.9 159.8,337.6 159.7,338.6 160.0,339.6 160.1,340.6 160.4,341.6 160.5,342.6 161.2,343.6 160.8,344.6 161.2,345.6 161.6,345.1 162.0,343.3 162.4,342.2 162.7,342.1 163.1,340.0 163.5,339.5 163.5,338.4 163.8,337.3 164.0,336.2 164.4,335.1 164.6,334.0 165.0,332.9 164.8,334.0 164.8,335.0 165.3,336.1 164.9,337.1 165.1,338.2 165.3,339.2 165.6,340.2 165.4,341.3 165.6,342.3 165.7,343.3 165.8,344.3 165.8,345.3 166.2,346.4 166.4,347.4 166.1,348.4 166.3,349.5 166.8,350.6 166.9,351.6 167.1,352.6 167.3,353.7 168.0,353.1 168.7,351.8 168.7,350.6 169.3,349.4 169.4,348.2 169.7,347.0 169.9,345.8 170.0,344.7 170.2,343.5 170.6,342.3 170.9,341.2 171.0,340.0 171.5,338.9 171.3,337.7 171.6,336.6 172.0,335.5 171.8,334.4 172.4,333.3 172.3,332.2 173.0,331.1 173.0,330.0 173.4,331.1 173.0,332.1 173.5,333.2 173.2,334.2 173.4,335.3 173.3,336.3 173.7,337.4 173.5,338.4 173.9,339.5 174.1,340.5 174.1,341.6 174.1,342.6 174.4,343.6 174.1,344.6 174.3,345.7 174.4,346.7 174.2,347.7 174.9,348.7 174.5,349.8 174.6,350.8 174.9,351.8 175.2,352.8 175.3,353.8 175.2,354.8 175.2,355.9 175.2,356.9 175.2,357.9 175.6,358.9 175.8,357.9 175.8,356.9 175.9,355.9 176.5,354.8 176.1,353.8 176.5,352.8 176.8,351.8 177.0,350.8 177.0,349.8 176.6,348.7 177.1,347.7 177.0,346.7 177.1,345.7 177.3,344.6 177.3,343.6 177.2,342.6 177.3,341.6 177.2,340.5 177.2,339.5 177.3,338.5 177.6,337.4 177.6,336.4 177.5,335.3 177.4,334.3 178.0,333.3 177.8,332.2 178.0,331.2 178.0,330.1 178.2,329.1 178.4,330.2 178.5,331.4 179.0,332.5 179.0,333.7 179.1,334.8 179.3,335.9 179.6,337.0 179.6,338.1 179.8,339.1 180.1,340.2 180.1,341.3 180.5,340.1 180.9,338.8 181.0,337.6 181.6,337.2 182.3,335.8 182.9,334.8 183.2,333.4 183.4,331.9 183.3,333.0 183.5,334.1 183.8,335.2 184.0,336.3 184.4,337.4 184.3,338.5 184.8,339.0 185.2,340.5 185.7,341.8 186.0,340.8 186.0,339.8 186.4,338.8 186.1,337.7 186.7,336.7 186.7,335.7 187.1,336.6 187.4,337.7 187.8,338.0 188.1,339.5 188.3,338.3 188.8,337.2 189.0,336.0 189.1,334.8 189.3,333.7 189.4,332.7 189.3,331.6 189.9,330.6 189.9,329.5 190.2,328.5 190.2,327.4 190.7,326.3 191.1,324.8 191.6,323.7 192.0,322.6 191.6,321.6 192.2,320.5 191.8,319.5 192.5,318.4 192.3,317.4 192.3,316.3 192.8,315.3 192.6,314.2 192.8,313.2 192.9,312.2 192.8,311.2 193.5,310.1 193.5,309.1 193.5,308.1 193.8,307.1 193.7,308.1 194.1,309.2 194.6,310.2 194.8,311.2 194.7,312.3 194.9,313.3 194.7,314.3 195.3,315.4 195.0,316.4 195.5,317.5 195.4,318.5 195.8,319.5 195.4,320.6 195.9,321.6 195.9,322.7 195.9,323.7 195.6,324.8 196.1,325.8 195.9,326.9 196.3,328.0 196.5,329.1 196.4,330.1 196.3,331.2 196.6,332.2 197.0,333.2 197.1,334.3 197.6,335.3 197.8,334.3 197.9,333.3 198.5,332.3 198.4,331.3 198.9,330.3 199.2,329.1 199.3,327.9 199.8,326.7 200.1,325.5 200.0,324.4 200.2,323.4 200.8,322.3 201.0,321.2 201.4,320.1 201.4,319.1 201.5,318.0 202.0,319.1 201.7,320.3 202.2,321.4 202.4,322.6 202.5,323.7 202.5,322.6 202.6,321.4 202.9,320.3 203.2,319.1 203.4,318.0 204.8,318.0 205.1,319.1 205.1,320.2 205.1,321.3 204.9,322.4 205.4,323.5 205.3,324.6 205.8,325.5 206.2,326.0 206.7,327.4 207.3,328.4 208.0,328.7 208.6,329.8 209.6,329.3 209.6,328.2 209.8,327.2 210.1,326.1 209.9,325.0 210.2,323.9 210.2,322.9 210.5,321.8 210.9,323.0 211.4,324.3 211.5,325.5 211.5,324.4 212.0,323.3 212.1,322.2 212.1,321.1 212.4,320.0 212.7,318.9 213.0,320.1 213.4,321.3 213.6,322.5 213.8,323.7 214.3,324.0 214.7,325.9 215.2,326.5 216.0,327.6 216.7,328.4 216.9,329.7 217.1,330.9 217.6,332.2 218.3,333.3 219.0,334.5 219.9,333.8 220.9,332.6 222.3,331.2 222.6,329.9 222.9,328.7 223.5,327.4 223.9,326.2 223.8,325.1 223.7,323.9 224.2,322.7 224.8,321.4 224.6,320.2 225.2,318.9 225.2,317.8 225.4,316.7 225.5,315.6 225.7,314.4 225.2,313.3 225.5,312.2 225.8,311.1 225.6,310.0 225.8,311.1 226.2,312.1 226.3,313.1 226.6,314.2 226.8,315.3 227.0,316.3 226.7,317.4 227.0,318.4 226.8,319.5 227.2,320.6 227.2,321.6 227.1,322.7 228.5,323.7 228.9,322.6 229.1,321.4 229.1,320.3 229.5,319.1 229.4,318.0 229.7,316.6 230.1,316.2 230.4,315.1 230.9,313.4 231.3,312.8 231.8,314.1 232.3,315.1 232.7,316.1 232.7,317.0 233.3,318.0 233.4,318.9 233.7,319.9 235.1,320.3 235.8,318.8 236.5,318.0 237.4,317.5 237.9,318.5 238.4,320.3 239.2,321.6 240.0,322.7 240.4,324.1 240.9,325.5 242.3,326.0 242.8,324.3 243.3,323.7 243.4,322.6 244.1,321.5 244.0,320.3 244.4,319.2 244.4,318.1 244.7,317.0 244.7,318.3 245.4,319.5 245.6,320.8 246.6,319.5 247.5,318.9 247.5,317.7 248.1,316.6 248.4,315.4 248.5,314.2 249.4,313.3 249.4,312.2 250.3,311.1 250.3,310.0 250.2,311.1 250.6,312.1 250.9,313.1 251.3,314.2 251.6,315.3 251.7,316.3 251.8,317.4 251.7,318.4 252.1,319.5 251.7,320.5 252.3,321.6 251.8,322.6 252.2,323.7 252.0,324.8 252.4,325.8 252.4,326.9 252.2,327.9 252.4,326.9 252.2,325.9 252.6,324.9 252.5,323.9 252.3,322.9 252.3,321.9 253.0,320.9 252.4,319.8 252.6,318.8 252.8,317.8 253.2,316.8 253.2,315.8 253.3,314.8 253.2,313.8 253.2,312.8 254.1,314.2 253.9,315.2 254.4,316.3 254.1,317.3 254.7,318.4 254.8,319.4 254.2,320.4 254.7,321.5 254.5,322.5 254.5,323.6 254.8,324.6 255.3,325.6 255.2,326.6 255.5,327.6 255.4,328.7 255.6,329.8 255.4,330.9 255.7,332.0 255.8,333.1 255.8,334.2 256.4,335.5 256.2,336.7 256.8,338.0 257.4,336.7 257.1,335.5 257.7,334.2 258.2,335.0 258.7,336.6 259.6,335.6 259.7,336.7 259.7,337.9 259.9,339.0 260.4,340.2 260.5,341.3 260.6,340.3 260.6,339.2 261.0,338.2 260.9,337.2 261.5,336.1 261.5,335.1 262.2,334.8 262.9,333.3"/>
<polyline fill="none" stroke-linejoin="round" stroke-linecap="butt" stroke="#0000ff" stroke-width="1.1" points="77.4,258.6 92.0,258.6 93.0,259.4 94.0,261.1 95.5,261.1 97.0,259.6 98.0,258.1 99.0,257.1 100.0,250.1 100.7,248.1 101.5,253.1 102.5,260.1 103.5,262.1 105.0,261.6 105.5,252.1 106.0,243.1 106.5,247.1 107.5,252.1 108.5,247.1 109.5,240.1 110.0,237.1 111.0,239.1 112.0,240.1 113.0,239.6 114.0,241.1 114.2,270.4 115.2,286.6 115.5,287.3 115.9,288.9 116.2,289.9 116.6,290.8 117.1,291.9 117.0,293.0 117.3,294.1 117.5,295.2 118.0,296.4 118.1,297.5 118.8,298.6 118.7,299.8 119.2,300.9 119.5,302.1 119.9,302.6 120.3,303.7 120.7,304.8 121.0,306.3 121.4,306.9 121.8,307.8 121.8,306.5 122.3,305.3 122.8,304.1 122.9,303.1 123.6,302.1 123.8,301.2 124.1,300.2 124.2,299.2 124.7,300.6 125.1,301.1 125.3,302.1 125.5,303.2 125.5,304.3 125.2,305.4 125.7,306.5 125.5,307.6 125.6,308.7 126.5,308.5 127.5,307.8 128.0,309.2 128.4,310.6 128.9,309.5 129.4,308.7 129.4,309.7 129.4,310.7 129.4,311.7 129.3,312.7 129.8,313.8 129.9,314.8 130.0,315.8 129.9,316.8 129.9,317.9 130.0,318.9 129.7,319.9 130.1,320.9 130.0,321.9 130.4,320.9 130.9,319.6 131.3,319.1 131.4,317.9 131.9,316.8 132.0,315.7 132.4,314.6 132.7,313.4 132.8,312.4 132.7,311.3 132.6,310.3 132.9,309.2 132.8,308.2 132.9,307.1 132.9,306.1 133.1,305.0 133.2,303.9 133.0,302.9 133.4,301.9 133.7,300.9 133.4,299.9 133.7,298.9 133.9,297.8 133.4,296.8 133.5,295.8 134.0,294.8 134.1,293.8 134.0,292.7 133.8,291.7 134.0,290.7 134.4,289.7 134.2,288.7 134.6,289.8 134.6,291.0 134.4,292.2 134.9,293.4 134.8,294.6 134.7,295.6 135.0,296.6 134.6,297.6 135.2,298.7 135.0,299.7 135.1,300.7 134.8,301.7 135.1,302.8 135.1,303.8 135.1,304.8 135.0,305.9 135.2,306.9 135.0,307.9 135.0,308.9 134.9,310.0 135.3,311.0 134.9,312.0 135.0,313.0 135.0,314.1 135.3,315.1 135.3,316.1 135.3,317.2 135.4,316.1 135.1,315.1 135.4,314.1 135.4,313.1 135.3,312.1 135.3,311.1 136.0,310.1 135.4,309.1 135.6,308.1 135.6,307.1 135.9,306.1 135.6,305.1 135.9,304.1 135.9,303.1 136.0,302.1 136.5,300.9 136.2,299.7 136.6,298.5 137.0,297.4 137.1,296.3 137.6,295.3 137.5,294.3 137.6,293.2 137.9,292.2 137.8,291.2 137.7,290.1 138.2,289.1 138.6,288.1 138.5,287.1 138.7,288.1 138.4,289.1 138.8,290.1 138.9,291.1 138.6,292.1 138.9,293.2 138.8,294.2 138.7,295.2 138.8,296.2 138.8,297.2 139.0,298.2 139.1,299.2 138.8,300.3 139.1,301.3 139.0,302.3 139.5,303.3 139.4,304.3 139.1,305.3 139.6,306.3 139.3,307.4 139.5,308.4 139.6,309.4 139.5,310.4 139.6,311.4 139.7,312.4 139.8,313.4 139.8,314.7 140.4,315.9 140.4,317.2 140.2,316.1 140.7,315.1 140.4,314.1 140.5,313.1 140.6,312.1 140.4,311.1 140.5,310.0 140.7,309.0 140.8,308.0 141.1,307.0 141.2,306.0 140.7,305.0 141.0,303.9 141.1,302.9 140.8,301.8 141.3,300.7 141.1,299.6 141.5,298.5 141.3,297.5 141.1,296.4 141.0,295.3 141.2,294.2 141.7,293.1 141.5,292.1 141.4,293.1 141.7,294.2 141.7,295.3 141.8,296.4 142.2,297.5 141.9,298.5 142.3,299.6 142.4,300.7 142.7,301.8 142.5,302.9 142.6,303.9 142.9,305.0 142.7,306.1 142.8,307.1 142.9,308.2 143.1,309.3 143.2,310.3 142.8,311.4 143.1,312.4 143.0,311.4 143.3,310.3 143.6,309.3 143.6,308.2 143.5,307.2 144.1,306.2 143.8,305.1 144.0,304.1 143.9,303.0 144.0,301.9 144.2,300.9 144.8,299.8 144.5,298.8 145.1,297.7 145.3,296.7 145.6,295.6 145.4,294.6 145.7,293.5 145.6,292.4 145.8,291.4 146.1,290.3 146.1,289.3 145.9,288.2 146.3,287.2 146.0,286.1 146.4,285.1 146.3,284.1 146.7,283.1 146.4,282.1 146.3,281.1 146.6,280.1 146.4,279.1 146.2,278.1 146.2,277.1 146.4,276.1 146.4,275.1 146.8,274.1 146.4,273.1 146.8,272.1 146.8,271.1 146.5,270.1 146.6,269.1 147.0,270.1 146.9,271.1 146.7,272.1 146.6,273.1 146.8,274.1 147.1,275.1 146.9,276.1 146.7,277.1 146.9,278.1 147.0,279.1 146.8,280.1 147.1,281.1 146.8,282.1 147.4,283.1 147.2,284.1 147.2,282.8 147.3,281.6 147.8,280.4 147.9,281.4 147.7,282.4 148.1,283.4 147.8,284.4 147.8,285.4 148.0,286.4 147.6,287.4 148.0,288.4 147.9,289.4 147.8,290.4 148.1,291.4 147.5,292.4 148.0,293.4 147.6,294.4 148.0,295.4 147.6,296.4 147.5,297.4 147.8,298.4 148.1,299.4 147.6,300.4 147.8,301.4 147.9,302.4 147.6,303.4 147.8,304.4 147.5,305.4 147.8,306.4 148.0,307.4 147.7,308.4 147.6,309.4 147.5,310.4 147.9,311.4 147.8,312.4 148.0,311.3 148.5,310.2 148.6,309.0 148.3,307.9 148.8,306.8 149.7,306.3 150.6,304.9 151.0,306.0 151.0,307.1 151.1,308.3 151.1,309.4 151.1,310.6 151.4,311.6 151.4,312.7 151.5,313.7 151.4,314.8 151.4,315.8 151.9,316.9 151.9,317.9 151.7,319.0 152.1,320.1 152.6,321.1 153.1,322.0 153.5,322.8 154.0,323.7 154.3,322.6 154.5,321.5 154.3,320.5 154.7,319.4 154.6,318.3 154.7,317.3 154.7,316.2 154.9,315.2 155.3,316.3 155.1,317.4 155.5,318.4 155.3,319.6 155.6,320.7 155.6,321.8 156.0,322.8 155.9,323.9 155.8,325.0 155.7,326.0 156.0,327.1 156.1,328.2 156.4,329.3 156.5,330.3 156.7,331.4 156.5,332.5 156.6,333.6 157.3,333.2 157.9,334.1 158.4,335.3 158.9,336.6 159.5,337.4 159.4,338.4 159.7,339.4 159.8,340.4 160.1,341.4 160.2,342.4 160.9,343.4 160.5,344.4 160.9,345.4 161.3,344.9 161.7,343.0 162.1,341.9 162.4,341.9 162.8,339.7 163.2,339.2 163.2,338.2 163.5,337.1 163.7,335.9 164.1,334.9 164.3,333.8 164.7,332.7 164.5,333.7 164.5,334.8 165.0,335.8 164.6,336.9 164.8,337.9 165.0,338.9 165.3,340.0 165.1,341.1 165.3,342.1 165.4,343.1 165.5,344.1 165.5,345.1 165.9,346.1 166.1,347.2 165.8,348.2 166.0,349.2 166.5,350.3 166.6,351.3 166.8,352.4 167.0,353.4 167.7,352.9 168.4,351.6 168.4,350.4 169.0,349.2 169.1,347.9 169.4,346.8 169.6,345.6 169.7,344.4 169.9,343.2 170.3,342.1 170.6,340.9 170.7,339.8 171.2,338.6 171.0,337.5 171.3,336.4 171.7,335.2 171.5,334.2 172.1,333.1 172.0,331.9 172.7,330.9 172.7,329.8 173.1,330.8 172.7,331.9 173.2,332.9 172.9,334.0 173.1,335.0 173.0,336.1 173.4,337.1 173.2,338.2 173.6,339.2 173.8,340.3 173.8,341.3 173.8,342.3 174.1,343.4 173.8,344.4 174.0,345.4 174.1,346.4 173.9,347.4 174.6,348.5 174.2,349.5 174.3,350.5 174.6,351.6 174.9,352.6 175.0,353.6 174.9,354.6 174.9,355.6 174.9,356.6 174.9,357.6 175.3,358.7 175.5,357.6 175.5,356.6 175.6,355.6 176.2,354.6 175.8,353.6 176.2,352.6 176.5,351.6 176.7,350.5 176.7,349.5 176.3,348.5 176.8,347.4 176.7,346.4 176.8,345.4 177.0,344.4 177.0,343.4 176.9,342.3 177.0,341.3 176.9,340.3 176.9,339.2 177.0,338.2 177.3,337.2 177.3,336.1 177.2,335.1 177.1,334.1 177.7,333.0 177.5,332.0 177.7,330.9 177.7,329.9 177.9,328.9 178.1,330.0 178.2,331.1 178.7,332.3 178.7,333.4 178.8,334.6 179.0,335.6 179.3,336.7 179.3,337.8 179.5,338.9 179.8,340.0 179.8,341.1 180.2,339.8 180.6,338.6 180.7,337.4 181.3,336.9 182.0,335.6 182.6,334.6 182.9,333.1 183.1,331.7 183.0,332.8 183.2,333.9 183.5,334.9 183.7,336.1 184.1,337.2 184.0,338.2 184.5,338.8 184.9,340.3 185.4,341.6 185.7,340.5 185.7,339.5 186.1,338.5 185.8,337.5 186.4,336.5 186.4,335.4 186.8,336.3 187.1,337.4 187.5,337.7 187.8,339.2 188.0,338.1 188.5,336.9 188.7,335.7 188.8,334.6 189.0,333.5 189.1,332.4 189.0,331.4 189.6,330.3 189.6,329.3 189.9,328.2 189.9,327.2 190.4,326.1 190.8,324.6 191.3,323.4 191.7,322.4 191.3,321.3 191.9,320.3 191.5,319.2 192.2,318.2 192.0,317.1 192.0,316.1 192.5,315.0 192.3,313.9 192.5,312.9 192.6,311.9 192.5,310.9 193.2,309.9 193.2,308.9 193.2,307.9 193.5,306.9 193.4,307.9 193.8,308.9 194.3,309.9 194.5,311.0 194.4,312.0 194.6,313.1 194.4,314.1 195.0,315.1 194.7,316.2 195.2,317.2 195.1,318.2 195.5,319.3 195.1,320.3 195.6,321.4 195.6,322.4 195.6,323.4 195.3,324.5 195.8,325.6 195.6,326.7 196.0,327.7 196.2,328.8 196.1,329.9 196.0,330.9 196.3,332.0 196.7,333.0 196.8,334.0 197.3,335.1 197.5,334.1 197.6,333.1 198.2,332.1 198.1,331.1 198.6,330.1 198.9,328.9 199.0,327.7 199.5,326.4 199.8,325.2 199.7,324.2 199.9,323.1 200.5,322.0 200.7,321.0 201.1,319.9 201.1,318.8 201.2,317.8 201.7,318.9 201.4,320.0 201.9,321.2 202.1,322.3 202.2,323.4 202.2,322.3 202.3,321.2 202.6,320.0 202.9,318.9 203.1,317.8 204.5,317.8 204.8,318.9 204.8,319.9 204.8,321.1 204.6,322.2 205.1,323.2 205.0,324.4 205.5,325.3 205.9,325.8 206.4,327.2 207.0,328.1 207.7,328.4 208.3,329.6 209.3,329.1 209.3,328.0 209.5,326.9 209.8,325.8 209.6,324.8 209.9,323.7 209.9,322.6 210.2,321.6 210.6,322.8 211.1,324.0 211.2,325.2 211.2,324.2 211.7,323.1 211.8,321.9 211.8,320.9 212.1,319.8 212.4,318.7 212.7,319.9 213.1,321.1 213.3,322.2 213.5,323.4 214.0,323.7 214.4,325.7 214.9,326.2 215.7,327.3 216.4,328.2 216.6,329.4 216.8,330.7 217.3,331.9 218.0,333.0 218.7,334.2 219.6,333.5 220.6,332.4 222.0,330.9 222.3,329.7 222.6,328.4 223.2,327.2 223.6,326.0 223.5,324.8 223.4,323.6 223.9,322.4 224.5,321.2 224.3,319.9 224.9,318.7 224.9,317.5 225.1,316.4 225.2,315.3 225.4,314.2 224.9,313.1 225.2,312.0 225.5,310.9 225.3,309.8 225.5,310.8 225.9,311.8 226.0,312.9 226.3,313.9 226.5,315.0 226.7,316.1 226.4,317.1 226.7,318.2 226.5,319.3 226.9,320.3 226.9,321.4 226.8,322.4 228.2,323.4 228.6,322.3 228.8,321.2 228.8,320.0 229.2,318.9 229.1,317.8 229.4,316.3 229.8,315.9 230.1,314.9 230.6,313.1 231.0,312.6 231.5,313.8 232.0,314.9 232.4,315.8 232.4,316.8 233.0,317.7 233.1,318.7 233.4,319.7 234.8,320.1 235.5,318.5 236.2,317.8 237.1,317.2 237.6,318.3 238.1,320.1 238.9,321.4 239.7,322.4 240.1,323.8 240.6,325.2 242.0,325.8 242.5,324.0 243.0,323.4 243.1,322.3 243.8,321.2 243.7,320.1 244.1,319.0 244.1,317.9 244.4,316.8 244.4,318.0 245.1,319.3 245.3,320.6 246.2,319.2 247.2,318.7 247.2,317.5 247.8,316.3 248.1,315.1 248.2,313.9 249.1,313.1 249.1,311.9 250.0,310.9 250.0,309.8 249.9,310.8 250.3,311.8 250.6,312.9 251.0,313.9 251.3,315.0 251.4,316.1 251.5,317.1 251.4,318.2 251.8,319.2 251.4,320.3 252.0,321.3 251.5,322.4 251.9,323.4 251.7,324.5 252.1,325.6 252.1,326.6 251.9,327.7 252.1,326.6 251.9,325.6 252.3,324.6 252.2,323.6 252.0,322.6 252.0,321.6 252.7,320.6 252.1,319.6 252.3,318.6 252.5,317.6 252.9,316.6 252.9,315.6 253.0,314.6 252.9,313.6 252.9,312.6 253.8,313.9 253.6,315.0 254.1,316.0 253.8,317.1 254.4,318.1 254.5,319.2 253.9,320.2 254.4,321.2 254.2,322.3 254.2,323.3 254.5,324.4 255.0,325.4 254.9,326.4 255.2,327.4 255.1,328.4 255.3,329.6 255.1,330.7 255.4,331.8 255.5,332.8 255.5,333.9 256.1,335.2 255.9,336.5 256.5,337.8 257.1,336.5 256.8,335.2 257.4,333.9 257.9,334.8 258.4,336.4 259.3,335.4 259.4,336.5 259.4,337.6 259.6,338.8 260.1,339.9 260.2,341.1 260.3,340.0 260.3,339.0 260.7,337.9 260.6,336.9 261.2,335.9 261.2,334.9 261.9,334.6 262.6,333.1"/>
<polyline fill="none" stroke-linejoin="round" stroke-linecap="butt" stroke="#ff0000" stroke-width="1.85" stroke-dasharray="5.4 0.9 1.3 0.9" points="77.4,258.5 92.0,258.5 93.0,259.3 94.0,261.0 95.5,261.0 97.0,259.5 98.0,258.0 99.0,257.0 100.0,250.0 100.7,248.0 101.5,253.0 102.5,260.0 103.5,262.0 105.0,261.5 105.5,252.0 106.0,243.0 106.5,247.0 107.5,252.0 108.5,247.0 109.5,240.0 110.0,237.0 111.0,239.0 112.0,240.0 113.0,239.5 114.0,241.0 114.2,270.4 115.2,286.5 115.5,287.2 115.9,288.8 116.2,289.9 116.6,290.7 117.1,291.8 117.0,292.9 117.3,294.1 117.5,295.2 118.0,296.3 118.1,297.4 118.8,298.6 118.7,299.7 119.2,300.9 119.5,302.0 119.9,302.6 120.3,303.6 120.7,304.8 121.0,306.2 121.4,306.9 121.8,307.7 121.8,306.5 122.3,305.2 122.8,304.0 122.9,303.0 123.6,302.1 123.8,301.1 124.1,300.2 124.2,299.2 124.7,300.5 125.1,301.0 125.3,302.1 125.5,303.2 125.5,304.3 125.2,305.3 125.7,306.4 125.5,307.5 125.6,308.6 126.5,308.5 127.5,307.7 128.0,309.1 128.4,310.5 128.9,309.5 129.4,308.6 129.4,309.6 129.4,310.6 129.4,311.7 129.3,312.7 129.8,313.7 129.9,314.7 130.0,315.8 129.9,316.8 129.9,317.8 130.0,318.8 129.7,319.9 130.1,320.9 130.0,321.9 130.4,320.9 130.9,319.5 131.3,319.0 131.4,317.9 131.9,316.8 132.0,315.6 132.4,314.5 132.7,313.4 132.8,312.3 132.7,311.3 132.6,310.2 132.9,309.2 132.8,308.1 132.9,307.1 132.9,306.0 133.1,305.0 133.2,303.9 133.0,302.9 133.4,301.9 133.7,300.8 133.4,299.8 133.7,298.8 133.9,297.8 133.4,296.8 133.5,295.7 134.0,294.7 134.1,293.7 134.0,292.7 133.8,291.7 134.0,290.6 134.4,289.6 134.2,288.6 134.6,289.8 134.6,291.0 134.4,292.1 134.9,293.3 134.8,294.5 134.7,295.5 135.0,296.6 134.6,297.6 135.2,298.6 135.0,299.6 135.1,300.7 134.8,301.7 135.1,302.7 135.1,303.7 135.1,304.8 135.0,305.8 135.2,306.8 135.0,307.9 135.0,308.9 134.9,309.9 135.3,310.9 134.9,312.0 135.0,313.0 135.0,314.0 135.3,315.0 135.3,316.1 135.3,317.1 135.4,316.1 135.1,315.1 135.4,314.1 135.4,313.1 135.3,312.1 135.3,311.1 136.0,310.1 135.4,309.0 135.6,308.0 135.6,307.0 135.9,306.0 135.6,305.0 135.9,304.0 135.9,303.0 136.0,302.0 136.5,300.8 136.2,299.6 136.6,298.5 137.0,297.3 137.1,296.3 137.6,295.2 137.5,294.2 137.6,293.2 137.9,292.1 137.8,291.1 137.7,290.1 138.2,289.1 138.6,288.0 138.5,287.0 138.7,288.0 138.4,289.0 138.8,290.1 138.9,291.1 138.6,292.1 138.9,293.1 138.8,294.1 138.7,295.1 138.8,296.1 138.8,297.2 139.0,298.2 139.1,299.2 138.8,300.2 139.1,301.2 139.0,302.2 139.5,303.3 139.4,304.3 139.1,305.3 139.6,306.3 139.3,307.3 139.5,308.3 139.6,309.3 139.5,310.4 139.6,311.4 139.7,312.4 139.8,313.4 139.8,314.6 140.4,315.9 140.4,317.1 140.2,316.1 140.7,315.1 140.4,314.1 140.5,313.0 140.6,312.0 140.4,311.0 140.5,310.0 140.7,309.0 140.8,308.0 141.1,306.9 141.2,305.9 140.7,304.9 141.0,303.9 141.1,302.8 140.8,301.7 141.3,300.7 141.1,299.6 141.5,298.5 141.3,297.4 141.1,296.3 141.0,295.2 141.2,294.2 141.7,293.1 141.5,292.0 141.4,293.1 141.7,294.2 141.7,295.2 141.8,296.3 142.2,297.4 141.9,298.5 142.3,299.6 142.4,300.7 142.7,301.7 142.5,302.8 142.6,303.9 142.9,305.0 142.7,306.0 142.8,307.1 142.9,308.1 143.1,309.2 143.2,310.3 142.8,311.3 143.1,312.4 143.0,311.3 143.3,310.3 143.6,309.2 143.6,308.2 143.5,307.1 144.1,306.1 143.8,305.1 144.0,304.0 143.9,302.9 144.0,301.9 144.2,300.8 144.8,299.8 144.5,298.7 145.1,297.7 145.3,296.6 145.6,295.6 145.4,294.5 145.7,293.4 145.6,292.4 145.8,291.3 146.1,290.3 146.1,289.2 145.9,288.2 146.3,287.1 146.0,286.1 146.4,285.0 146.3,284.0 146.7,283.0 146.4,282.0 146.3,281.0 146.6,280.0 146.4,279.0 146.2,278.0 146.2,277.0 146.4,276.0 146.4,275.0 146.8,274.0 146.4,273.0 146.8,272.0 146.8,271.0 146.5,270.0 146.6,269.0 147.0,270.0 146.9,271.0 146.7,272.0 146.6,273.0 146.8,274.0 147.1,275.0 146.9,276.0 146.7,277.0 146.9,278.0 147.0,279.0 146.8,280.0 147.1,281.0 146.8,282.0 147.4,283.0 147.2,284.0 147.2,282.8 147.3,281.5 147.8,280.3 147.9,281.3 147.7,282.3 148.1,283.3 147.8,284.3 147.8,285.3 148.0,286.3 147.6,287.3 148.0,288.3 147.9,289.3 147.8,290.3 148.1,291.3 147.5,292.3 148.0,293.3 147.6,294.3 148.0,295.3 147.6,296.4 147.5,297.4 147.8,298.4 148.1,299.4 147.6,300.4 147.8,301.4 147.9,302.4 147.6,303.4 147.8,304.4 147.5,305.4 147.8,306.4 148.0,307.4 147.7,308.4 147.6,309.4 147.5,310.4 147.9,311.4 147.8,312.4 148.0,311.3 148.5,310.1 148.6,309.0 148.3,307.8 148.8,306.7 149.7,306.3 150.6,304.8 151.0,305.9 151.0,307.1 151.1,308.2 151.1,309.4 151.1,310.5 151.4,311.6 151.4,312.6 151.5,313.7 151.4,314.7 151.4,315.8 151.9,316.8 151.9,317.9 151.7,318.9 152.1,320.0 152.6,321.1 153.1,321.9 153.5,322.7 154.0,323.6 154.3,322.5 154.5,321.5 154.3,320.4 154.7,319.4 154.6,318.3 154.7,317.2 154.7,316.2 154.9,315.1 155.3,316.2 155.1,317.3 155.5,318.4 155.3,319.5 155.6,320.6 155.6,321.7 156.0,322.8 155.9,323.8 155.8,324.9 155.7,326.0 156.0,327.1 156.1,328.1 156.4,329.2 156.5,330.3 156.7,331.4 156.5,332.4 156.6,333.5 157.3,333.1 157.9,334.0 158.4,335.3 158.9,336.6 159.5,337.3 159.4,338.3 159.7,339.3 159.8,340.3 160.1,341.3 160.2,342.3 160.9,343.3 160.5,344.3 160.9,345.3 161.3,344.8 161.7,343.0 162.1,341.9 162.4,341.8 162.8,339.7 163.2,339.2 163.2,338.1 163.5,337.0 163.7,335.9 164.1,334.8 164.3,333.7 164.7,332.6 164.5,333.7 164.5,334.7 165.0,335.8 164.6,336.8 164.8,337.9 165.0,338.9 165.3,339.9 165.1,341.0 165.3,342.0 165.4,343.0 165.5,344.0 165.5,345.0 165.9,346.1 166.1,347.1 165.8,348.1 166.0,349.2 166.5,350.2 166.6,351.3 166.8,352.3 167.0,353.4 167.7,352.8 168.4,351.5 168.4,350.3 169.0,349.1 169.1,347.9 169.4,346.7 169.6,345.5 169.7,344.4 169.9,343.2 170.3,342.0 170.6,340.9 170.7,339.7 171.2,338.6 171.0,337.4 171.3,336.3 171.7,335.2 171.5,334.1 172.1,333.0 172.0,331.9 172.7,330.8 172.7,329.7 173.1,330.8 172.7,331.8 173.2,332.9 172.9,333.9 173.1,335.0 173.0,336.0 173.4,337.1 173.2,338.1 173.6,339.2 173.8,340.2 173.8,341.2 173.8,342.3 174.1,343.3 173.8,344.3 174.0,345.4 174.1,346.4 173.9,347.4 174.6,348.4 174.2,349.4 174.3,350.5 174.6,351.5 174.9,352.5 175.0,353.5 174.9,354.5 174.9,355.6 174.9,356.6 174.9,357.6 175.3,358.6 175.5,357.6 175.5,356.6 175.6,355.6 176.2,354.5 175.8,353.5 176.2,352.5 176.5,351.5 176.7,350.5 176.7,349.4 176.3,348.4 176.8,347.4 176.7,346.4 176.8,345.4 177.0,344.3 177.0,343.3 176.9,342.3 177.0,341.2 176.9,340.2 176.9,339.2 177.0,338.2 177.3,337.1 177.3,336.1 177.2,335.0 177.1,334.0 177.7,333.0 177.5,331.9 177.7,330.9 177.7,329.8 177.9,328.8 178.1,329.9 178.2,331.1 178.7,332.2 178.7,333.4 178.8,334.5 179.0,335.6 179.3,336.7 179.3,337.8 179.5,338.8 179.8,339.9 179.8,341.0 180.2,339.8 180.6,338.5 180.7,337.3 181.3,336.9 182.0,335.5 182.6,334.5 182.9,333.1 183.1,331.6 183.0,332.7 183.2,333.8 183.5,334.9 183.7,336.0 184.1,337.1 184.0,338.2 184.5,338.7 184.9,340.2 185.4,341.5 185.7,340.5 185.7,339.5 186.1,338.4 185.8,337.4 186.4,336.4 186.4,335.4 186.8,336.3 187.1,337.4 187.5,337.7 187.8,339.2 188.0,338.0 188.5,336.9 188.7,335.7 188.8,334.5 189.0,333.4 189.1,332.4 189.0,331.3 189.6,330.3 189.6,329.2 189.9,328.2 189.9,327.1 190.4,326.0 190.8,324.5 191.3,323.4 191.7,322.3 191.3,321.3 191.9,320.2 191.5,319.2 192.2,318.1 192.0,317.1 192.0,316.0 192.5,315.0 192.3,313.9 192.5,312.9 192.6,311.9 192.5,310.9 193.2,309.8 193.2,308.8 193.2,307.8 193.5,306.8 193.4,307.8 193.8,308.9 194.3,309.9 194.5,310.9 194.4,312.0 194.6,313.0 194.4,314.0 195.0,315.1 194.7,316.1 195.2,317.2 195.1,318.2 195.5,319.2 195.1,320.3 195.6,321.3 195.6,322.4 195.6,323.4 195.3,324.5 195.8,325.5 195.6,326.6 196.0,327.7 196.2,328.8 196.1,329.8 196.0,330.9 196.3,331.9 196.7,332.9 196.8,334.0 197.3,335.0 197.5,334.0 197.6,333.0 198.2,332.0 198.1,331.0 198.6,330.0 198.9,328.8 199.0,327.6 199.5,326.4 199.8,325.2 199.7,324.1 199.9,323.1 200.5,322.0 200.7,320.9 201.1,319.8 201.1,318.8 201.2,317.7 201.7,318.8 201.4,320.0 201.9,321.1 202.1,322.3 202.2,323.4 202.2,322.3 202.3,321.1 202.6,320.0 202.9,318.8 203.1,317.7 204.5,317.7 204.8,318.8 204.8,319.9 204.8,321.0 204.6,322.1 205.1,323.2 205.0,324.3 205.5,325.2 205.9,325.7 206.4,327.1 207.0,328.1 207.7,328.4 208.3,329.5 209.3,329.0 209.3,327.9 209.5,326.9 209.8,325.8 209.6,324.7 209.9,323.6 209.9,322.6 210.2,321.5 210.6,322.7 211.1,324.0 211.2,325.2 211.2,324.1 211.7,323.0 211.8,321.9 211.8,320.8 212.1,319.7 212.4,318.6 212.7,319.8 213.1,321.0 213.3,322.2 213.5,323.4 214.0,323.7 214.4,325.6 214.9,326.2 215.7,327.3 216.4,328.1 216.6,329.4 216.8,330.6 217.3,331.9 218.0,333.0 218.7,334.2 219.6,333.5 220.6,332.3 222.0,330.9 222.3,329.6 222.6,328.4 223.2,327.1 223.6,325.9 223.5,324.8 223.4,323.6 223.9,322.4 224.5,321.1 224.3,319.9 224.9,318.6 224.9,317.5 225.1,316.4 225.2,315.3 225.4,314.1 224.9,313.0 225.2,311.9 225.5,310.8 225.3,309.7 225.5,310.8 225.9,311.8 226.0,312.8 226.3,313.9 226.5,315.0 226.7,316.0 226.4,317.1 226.7,318.1 226.5,319.2 226.9,320.3 226.9,321.3 226.8,322.4 228.2,323.4 228.6,322.3 228.8,321.1 228.8,320.0 229.2,318.8 229.1,317.7 229.4,316.3 229.8,315.9 230.1,314.8 230.6,313.1 231.0,312.5 231.5,313.8 232.0,314.8 232.4,315.8 232.4,316.7 233.0,317.7 233.1,318.6 233.4,319.6 234.8,320.0 235.5,318.5 236.2,317.7 237.1,317.2 237.6,318.2 238.1,320.0 238.9,321.3 239.7,322.4 240.1,323.8 240.6,325.2 242.0,325.7 242.5,324.0 243.0,323.4 243.1,322.3 243.8,321.2 243.7,320.0 244.1,318.9 244.1,317.8 244.4,316.7 244.4,318.0 245.1,319.2 245.3,320.5 246.2,319.2 247.2,318.6 247.2,317.4 247.8,316.2 248.1,315.1 248.2,313.9 249.1,313.0 249.1,311.9 250.0,310.8 250.0,309.7 249.9,310.8 250.3,311.8 250.6,312.8 251.0,313.9 251.3,315.0 251.4,316.0 251.5,317.1 251.4,318.1 251.8,319.2 251.4,320.2 252.0,321.3 251.5,322.3 251.9,323.4 251.7,324.4 252.1,325.5 252.1,326.6 251.9,327.6 252.1,326.6 251.9,325.6 252.3,324.6 252.2,323.6 252.0,322.6 252.0,321.6 252.7,320.6 252.1,319.5 252.3,318.5 252.5,317.5 252.9,316.5 252.9,315.5 253.0,314.5 252.9,313.5 252.9,312.5 253.8,313.9 253.6,314.9 254.1,316.0 253.8,317.0 254.4,318.1 254.5,319.1 253.9,320.1 254.4,321.2 254.2,322.2 254.2,323.3 254.5,324.3 255.0,325.3 254.9,326.3 255.2,327.3 255.1,328.4 255.3,329.5 255.1,330.6 255.4,331.7 255.5,332.8 255.5,333.9 256.1,335.2 255.9,336.4 256.5,337.7 257.1,336.4 256.8,335.2 257.4,333.9 257.9,334.7 258.4,336.3 259.3,335.3 259.4,336.4 259.4,337.6 259.6,338.7 260.1,339.9 260.2,341.0 260.3,340.0 260.3,338.9 260.7,337.9 260.6,336.9 261.2,335.8 261.2,334.8 261.9,334.5 262.6,333.0"/>
<polyline fill="none" stroke-linejoin="round" stroke-linecap="butt" stroke="#000" stroke-width="1.7" stroke-dasharray="6.5 1.1 1.4 1.1" points="77.4,253.0 105.6,253.0 126.0,327.6 262.8,327.6"/>
<rect x="67.1" y="226.8" width="196.00000000000003" height="154.89999999999998" fill="none" stroke="#000" stroke-width="1.45"/>
<path d="M106.3 381.7v-2.3M106.3 226.8v2.3M145.5 381.7v-2.3M145.5 226.8v2.3M184.7 381.7v-2.3M184.7 226.8v2.3M223.9 381.7v-2.3M223.9 226.8v2.3M67.1 265.1h2.3M263.1 265.1h-2.3M67.1 303.8h2.3M263.1 303.8h-2.3M67.1 342.4h2.3M263.1 342.4h-2.3" stroke="#000" stroke-width="1.3" fill="none"/>
<text x="67.5" y="399.5" text-anchor="middle">0</text>
<text x="106.7" y="399.5" text-anchor="middle">10</text>
<text x="145.9" y="399.5" text-anchor="middle">20</text>
<text x="185.1" y="399.5" text-anchor="middle">30</text>
<text x="224.3" y="399.5" text-anchor="middle">40</text>
<text x="263.5" y="399.5" text-anchor="middle">50</text>
<text x="62.1" y="232.0" text-anchor="end">39</text>
<text x="62.4" y="270.3" text-anchor="end" letter-spacing="0.3">38.5</text>
<text x="62.1" y="308.9" text-anchor="end">38</text>
<text x="62.4" y="347.6" text-anchor="end" letter-spacing="0.3">37.5</text>
<text x="62.1" y="387.3" text-anchor="end">37</text>
<g transform="translate(14.6 326.4) rotate(-90)"><text x="-0.3" y="3" font-size="11.5">ω</text><text x="9.3" y="8.4" font-size="11">3</text><text x="14.8" y="0" letter-spacing="0.65">(Hz)</text></g>
<text x="164.0" y="417.4" text-anchor="middle" letter-spacing="0.4">Times(s)</text>
</g>
<g>
<polyline fill="none" stroke-linejoin="round" stroke-linecap="butt" stroke="#00ff00" stroke-width="0.8" points="354.1,313.0 369.1,313.0 370.6,313.7 371.6,313.7 372.6,312.2 372.8,305.2 373.3,294.8 376.3,291.2 376.8,279.2 378.1,273.2 379.6,269.0 380.8,275.0 382.3,272.0 382.9,282.8 384.1,287.6 385.6,285.2 386.3,288.8 387.1,285.2 387.8,274.4 389.5,273.8 390.4,270.2 391.1,275.6 392.3,280.4 393.1,291.2 394.0,304.4 394.9,294.8 395.9,282.8 396.8,280.4 397.3,267.8 398.5,270.8 398.8,293.0 398.9,334.6 399.5,306.2 400.1,299.7 401.6,297.8 403.0,303.4 403.9,284.9 404.9,296.2 406.3,304.4 406.8,311.9 407.4,317.6 408.4,311.9 409.1,308.2 409.9,312.9 410.8,308.2 411.0,299.7 411.9,294.9 413.1,282.5 414.0,295.9 414.3,304.4 415.5,309.1 416.9,308.2 417.8,311.9 418.6,318.6 420.5,321.4 421.1,336.5 422.3,323.3 422.8,309.1 423.3,303.4 424.8,297.8 425.8,299.7 426.6,294.9 428.0,292.1 429.4,290.2 429.9,279.2 431.8,285.8 433.2,286.8 434.2,290.6 435.4,285.4 436.5,289.6 436.6,309.2 437.9,311.6 438.5,302.0 439.5,303.2 439.9,315.2 440.8,324.2 441.5,315.2 442.3,309.2 443.1,316.4 443.9,308.0 444.5,318.8 445.2,351.1 446.8,336.2 446.9,292.4 447.9,285.2 447.9,267.8 449.3,263.0 451.1,260.0 451.9,258.8 452.3,248.6 453.1,249.8 453.5,258.2 454.3,259.4 454.3,269.0 455.9,269.6 457.8,272.0 458.3,276.2 459.9,279.2 460.1,285.2 460.8,299.6 461.5,308.0 463.5,311.0 464.3,309.2 464.8,287.6 465.9,285.8 466.1,276.2 466.8,269.0 467.3,276.2 467.9,285.8 469.8,288.8 471.5,293.6 473.3,296.0 473.9,308.6 475.1,309.2 475.8,303.2 477.5,303.2 478.3,309.2 479.3,315.8 480.5,311.0 482.3,314.0 484.1,314.0 485.3,310.4 487.1,309.2 487.9,300.8 488.0,281.0 488.9,279.2 490.1,281.6 491.1,281.0 491.3,270.2 491.9,281.0 492.5,288.2 493.1,294.8 494.3,293.6 494.8,276.2 495.5,273.8 495.9,256.4 496.8,261.8 497.3,285.8 497.6,297.2 498.5,300.8 499.3,305.2 499.3,317.0 500.3,309.2 501.1,317.0 502.1,309.2 502.3,285.8 503.3,284.6 503.9,276.2 505.8,279.2 507.1,283.4 508.8,285.2 509.9,281.0 510.8,288.2 511.9,281.0 513.5,276.8 515.4,280.4 516.4,290.2 516.8,303.2 517.9,306.2 518.9,300.8 519.9,291.2 520.1,284.6 521.4,282.2 521.6,252.2 522.8,249.8 523.1,260.6 524.4,265.4 526.1,267.2 527.5,271.4 529.5,276.2 530.4,272.0 532.1,269.0 533.1,266.6 533.4,248.6 534.4,248.0 534.5,267.8 534.4,297.2 535.1,302.0 536.9,305.6 537.9,309.2 538.4,342.0"/>
<polyline fill="none" stroke-linejoin="round" stroke-linecap="butt" stroke="#00ffff" stroke-width="1.0" points="354.3,313.1 369.3,313.1 370.8,313.8 371.8,313.8 372.8,312.3 372.9,305.3 373.5,294.9 374.2,293.7 375.0,293.2 375.8,292.3 376.5,291.3 376.7,290.3 376.5,289.3 376.5,288.3 376.7,287.3 376.7,286.3 376.6,285.3 376.8,284.3 376.7,283.3 376.9,282.3 376.7,281.3 376.8,280.3 376.9,279.3 377.3,278.3 377.3,277.3 377.5,276.3 377.9,275.3 378.1,274.3 378.3,273.3 378.7,272.0 379.1,271.2 379.4,270.3 379.8,269.1 379.9,270.1 380.3,271.1 380.3,272.1 380.5,273.1 380.7,274.1 381.0,275.1 381.5,273.9 382.0,273.4 382.5,272.1 382.5,273.2 382.8,274.3 382.7,275.3 382.8,276.4 382.9,277.5 382.9,278.6 382.8,279.7 383.0,280.7 383.1,281.8 383.1,282.9 383.3,284.1 383.6,285.3 384.1,286.5 384.3,287.7 385.1,286.5 385.8,285.3 385.9,286.5 386.3,287.7 386.5,288.9 386.7,287.7 387.1,286.5 387.3,285.3 387.4,284.2 387.3,283.1 387.6,282.1 387.4,281.0 387.5,279.9 387.5,278.8 387.8,277.7 387.6,276.7 387.8,275.6 387.9,274.5 389.7,273.9 389.9,272.7 390.3,271.5 390.6,270.3 390.8,271.4 390.9,272.5 391.0,273.5 391.2,274.6 391.3,275.7 391.6,276.9 391.9,278.1 392.1,279.3 392.5,280.5 392.6,281.6 392.6,282.7 392.9,283.7 393.0,284.8 392.7,285.9 392.9,287.0 393.1,288.1 393.2,289.1 393.1,290.2 393.3,291.3 393.4,292.3 393.6,293.3 393.5,294.3 393.5,295.4 393.7,296.4 393.9,297.4 393.7,298.4 393.8,299.4 393.8,300.4 394.0,301.5 394.1,302.5 394.0,303.5 394.2,304.5 394.3,303.4 394.2,302.4 394.4,301.3 394.8,300.2 394.7,299.2 394.7,298.1 395.1,297.0 395.0,296.0 395.1,294.9 395.1,293.9 395.1,292.9 395.2,291.9 395.3,290.9 395.4,289.9 395.7,288.9 395.6,287.9 395.7,286.9 395.9,285.9 396.1,284.9 395.9,283.9 396.1,282.9 396.5,281.9 396.9,280.5 396.9,279.4 397.0,278.4 397.1,277.4 397.3,276.3 397.2,275.2 397.2,274.2 397.4,273.2 397.3,272.1 397.3,271.1 397.6,270.0 397.5,269.0 397.5,267.9 397.9,269.1 398.3,269.8 398.7,270.9 398.9,271.9 398.8,272.9 398.6,273.9 398.9,274.9 398.7,275.9 398.7,277.0 398.7,278.0 398.6,279.0 398.7,280.0 398.9,281.0 398.7,282.0 398.7,283.0 398.8,284.0 398.8,285.0 398.8,286.0 398.9,287.0 398.8,288.1 398.8,289.1 398.8,290.1 398.8,291.1 398.8,292.1 398.9,293.1 398.8,294.1 399.0,295.1 398.8,296.1 399.0,297.2 398.8,298.2 399.0,299.2 399.0,300.2 398.9,301.2 399.1,302.2 399.0,303.2 399.0,304.3 398.8,305.3 398.9,306.3 398.9,307.3 399.0,308.3 399.1,309.3 399.1,310.3 398.8,311.4 399.1,312.4 399.1,313.4 399.0,314.4 398.9,315.4 399.1,316.4 399.0,317.5 399.2,318.5 399.2,319.5 399.1,320.5 399.2,321.5 398.9,322.5 399.1,323.5 399.0,324.6 398.9,325.6 399.0,326.6 399.1,327.6 398.9,328.6 399.1,329.6 399.2,330.6 399.1,331.7 399.1,332.7 399.0,333.7 399.1,334.7 399.3,333.7 399.1,332.7 399.2,331.7 399.2,330.6 399.0,329.6 399.4,328.6 399.2,327.6 399.4,326.6 399.4,325.6 399.5,324.6 399.5,323.5 399.3,322.5 399.4,321.5 399.3,320.5 399.6,319.5 399.3,318.5 399.3,317.5 399.6,316.4 399.6,315.4 399.6,314.4 399.7,313.4 399.6,312.4 399.7,311.4 399.6,310.4 399.8,309.3 399.5,308.3 399.7,307.3 399.7,306.3 399.8,305.2 400.0,304.1 400.0,303.1 400.2,302.0 400.4,300.9 400.3,299.8 401.1,298.8 401.8,297.9 402.0,299.0 402.2,300.1 402.8,301.3 402.9,302.4 403.2,303.5 403.2,302.5 403.3,301.4 403.2,300.4 403.3,299.4 403.4,298.4 403.4,297.3 403.7,296.3 403.5,295.3 403.5,294.2 403.8,293.2 403.8,292.2 403.6,291.2 403.9,290.1 404.0,289.1 404.0,288.1 404.1,287.1 404.0,286.0 404.1,285.0 404.1,286.0 404.4,287.1 404.4,288.1 404.5,289.1 404.4,290.1 404.6,291.2 404.8,292.2 404.8,293.2 405.0,294.2 405.0,295.3 405.1,296.3 405.4,297.3 405.4,298.4 405.6,299.4 405.9,300.4 405.9,301.4 406.0,302.4 406.4,303.5 406.5,304.5 406.4,305.6 406.8,306.6 406.6,307.7 406.9,308.8 406.9,309.9 406.8,310.9 407.0,312.0 407.1,313.1 407.3,314.3 407.4,315.4 407.5,316.6 407.6,317.7 407.8,316.6 408.2,315.4 408.1,314.3 408.5,313.1 408.6,312.0 408.7,310.8 409.1,309.5 409.3,308.3 409.3,309.5 409.6,310.7 409.9,311.8 410.1,313.0 410.5,311.8 410.5,310.7 410.7,309.5 411.0,308.3 411.0,307.2 411.1,306.2 411.0,305.1 411.0,304.1 411.2,303.0 411.2,301.9 411.1,300.9 411.2,299.8 411.5,298.6 411.8,297.4 411.9,296.2 412.1,295.0 412.0,294.0 412.2,292.9 412.5,291.9 412.4,290.9 412.5,289.8 412.8,288.8 412.7,287.8 413.0,286.7 412.9,285.7 413.1,284.7 413.2,283.6 413.3,282.6 413.2,283.6 413.5,284.7 413.5,285.7 413.7,286.7 413.7,287.8 413.6,288.8 413.9,289.8 414.0,290.8 413.8,291.9 414.0,292.9 414.0,293.9 414.1,295.0 414.2,296.0 414.3,297.1 414.2,298.1 414.3,299.2 414.2,300.2 414.5,301.3 414.5,302.4 414.6,303.4 414.5,304.5 414.7,305.7 415.2,306.8 415.3,308.0 415.7,309.2 417.1,308.3 417.4,309.5 417.6,310.8 418.0,312.0 418.3,313.1 418.1,314.2 418.4,315.3 418.5,316.5 418.6,317.6 418.8,318.7 419.4,319.3 420.1,320.7 420.7,321.5 420.9,322.5 420.7,323.5 421.0,324.5 420.8,325.5 420.8,326.5 420.9,327.5 421.1,328.5 421.1,329.6 421.1,330.6 420.9,331.6 421.1,332.6 421.0,333.6 421.1,334.6 421.2,335.6 421.3,336.6 421.3,335.6 421.3,334.6 421.6,333.6 421.8,332.5 421.9,331.5 422.0,330.5 421.9,329.5 421.9,328.5 422.3,327.5 422.2,326.4 422.3,325.4 422.5,324.4 422.5,323.4 422.6,322.4 422.7,321.4 422.7,320.4 422.8,319.3 422.6,318.3 422.9,317.3 422.8,316.3 422.9,315.3 422.8,314.3 422.8,313.3 422.8,312.2 422.8,311.2 423.1,310.2 423.0,309.2 423.0,308.1 423.1,306.9 423.3,305.8 423.3,304.6 423.5,303.5 423.7,302.4 424.0,301.3 424.2,300.1 424.4,299.0 424.9,297.9 425.4,299.0 425.9,299.8 426.2,298.6 426.3,297.4 426.7,296.2 426.8,295.0 427.3,294.1 427.7,292.9 428.2,292.2 428.9,291.6 429.6,290.3 429.6,289.3 429.8,288.3 429.8,287.3 429.6,286.3 429.9,285.3 429.8,284.3 429.9,283.3 430.1,282.3 430.0,281.3 430.0,280.3 430.1,279.3 430.3,280.4 430.9,281.5 431.0,282.6 431.4,283.7 431.7,284.8 432.0,285.9 433.4,286.9 433.9,288.2 434.2,289.4 434.4,290.7 434.8,289.7 434.9,288.6 435.3,287.6 435.3,286.5 435.6,285.5 435.7,286.6 436.2,287.6 436.3,288.6 436.7,289.7 436.9,290.7 436.6,291.8 436.7,292.8 436.6,293.8 436.7,294.9 436.7,295.9 436.8,296.9 436.6,298.0 436.7,299.0 436.7,300.0 436.9,301.0 436.7,302.1 436.7,303.1 436.9,304.1 436.7,305.2 436.7,306.2 436.8,307.2 436.7,308.3 436.8,309.3 437.4,310.6 438.1,311.7 438.1,310.6 438.2,309.6 438.3,308.5 438.5,307.4 438.5,306.4 438.5,305.3 438.7,304.2 438.8,303.2 438.7,302.1 439.7,303.3 439.9,304.3 439.8,305.3 439.8,306.3 439.8,307.3 440.0,308.3 439.9,309.3 440.0,310.3 439.9,311.3 440.0,312.3 439.9,313.3 440.1,314.3 440.1,315.3 440.1,316.3 440.3,317.3 440.4,318.3 440.6,319.3 440.7,320.3 440.7,321.3 440.6,322.3 441.0,323.3 440.9,324.3 440.8,323.3 441.0,322.3 441.3,321.3 441.4,320.3 441.4,319.3 441.6,318.3 441.4,317.3 441.4,316.3 441.7,315.3 441.8,314.3 442.1,313.3 441.9,312.3 442.2,311.3 442.4,310.3 442.5,309.3 442.5,310.3 442.9,311.4 442.7,312.4 442.8,313.4 443.2,314.4 443.0,315.5 443.3,316.5 443.3,315.4 443.5,314.4 443.7,313.4 443.6,312.3 443.8,311.2 444.0,310.2 444.0,309.2 444.1,308.1 444.3,309.2 444.1,310.3 444.3,311.3 444.2,312.4 444.5,313.5 444.3,314.6 444.4,315.7 444.6,316.7 444.7,317.8 444.7,318.9 444.6,319.9 444.8,320.9 444.6,321.9 444.7,322.9 444.6,323.9 444.9,325.0 445.0,326.0 445.0,327.0 444.8,328.0 444.8,329.0 445.1,330.0 445.1,331.0 445.1,332.0 445.0,333.0 445.2,334.0 445.1,335.1 445.2,336.1 445.1,337.1 445.2,338.1 445.1,339.1 445.1,340.1 445.2,341.1 445.0,342.1 445.3,343.1 445.2,344.1 445.2,345.1 445.4,346.2 445.3,347.2 445.3,348.2 445.5,349.2 445.5,350.2 445.4,351.2 445.5,350.1 445.6,349.1 445.5,348.0 445.8,346.9 446.1,345.9 446.0,344.8 446.3,343.8 446.1,342.7 446.2,341.6 446.3,340.6 446.4,339.5 446.8,338.4 447.0,337.4 446.9,336.3 447.0,335.3 446.9,334.3 446.9,333.2 446.9,332.2 446.8,331.2 446.9,330.2 446.8,329.2 447.0,328.2 447.0,327.1 446.9,326.1 447.1,325.1 446.9,324.1 447.1,323.1 447.0,322.0 447.0,321.0 447.0,320.0 447.0,319.0 447.1,318.0 447.2,316.9 447.0,315.9 447.2,314.9 446.9,313.9 447.2,312.9 447.1,311.9 447.1,310.8 446.9,309.8 447.2,308.8 447.0,307.8 447.0,306.8 447.2,305.7 446.9,304.7 447.1,303.7 447.0,302.7 447.2,301.7 447.0,300.6 446.9,299.6 447.1,298.6 447.1,297.6 447.2,296.6 447.0,295.6 447.0,294.5 447.0,293.5 447.1,292.5 447.3,291.5 447.3,290.4 447.5,289.4 447.8,288.4 447.9,287.4 447.9,286.3 448.1,285.3 448.1,284.3 448.0,283.3 448.1,282.2 448.2,281.2 447.9,280.2 448.2,279.2 448.2,278.1 448.0,277.1 448.0,276.1 448.2,275.1 448.0,274.0 448.0,273.0 448.1,272.0 448.1,271.0 448.0,269.9 448.0,268.9 448.1,267.9 448.4,266.9 448.8,266.0 448.8,265.0 449.3,264.1 449.5,263.1 450.1,262.1 450.7,260.9 451.3,260.1 452.1,258.9 452.1,257.9 452.3,256.9 452.1,255.8 452.3,254.8 452.3,253.8 452.2,252.8 452.4,251.8 452.3,250.7 452.4,249.7 452.5,248.7 453.3,249.9 453.2,251.0 453.4,252.0 453.6,253.1 453.6,254.1 453.7,255.2 453.5,256.2 453.8,257.2 453.7,258.3 454.5,259.5 454.5,260.6 454.6,261.6 454.5,262.7 454.6,263.8 454.5,264.8 454.7,265.9 454.5,267.0 454.6,268.0 454.5,269.1 456.1,269.7 456.7,270.3 457.3,271.5 457.9,272.1 457.9,273.2 458.2,274.2 458.3,275.2 458.5,276.3 459.0,277.4 459.6,278.4 460.1,279.3 460.1,280.3 460.3,281.3 460.0,282.3 460.2,283.3 460.1,284.3 460.3,285.3 460.2,286.3 460.3,287.4 460.6,288.4 460.3,289.4 460.6,290.4 460.6,291.5 460.7,292.5 460.8,293.5 460.6,294.6 460.9,295.6 460.6,296.6 460.7,297.6 460.8,298.7 460.9,299.7 461.1,300.8 461.1,301.8 461.3,302.9 461.2,303.9 461.4,304.9 461.4,306.0 461.8,307.1 461.7,308.1 462.4,309.1 463.0,310.2 463.7,311.1 464.5,309.3 464.5,308.3 464.4,307.2 464.4,306.2 464.5,305.2 464.7,304.2 464.5,303.1 464.6,302.1 464.6,301.1 464.5,300.0 464.6,299.0 464.7,298.0 464.9,297.0 464.8,295.9 464.7,294.9 464.7,293.9 464.7,292.8 464.8,291.8 464.9,290.8 465.0,289.8 464.7,288.7 464.9,287.7 465.5,286.6 466.1,285.9 466.1,284.8 466.2,283.8 466.0,282.7 466.0,281.6 466.2,280.6 466.1,279.5 466.4,278.4 466.3,277.4 466.3,276.3 466.4,275.3 466.6,274.2 466.6,273.2 466.8,272.2 466.6,271.2 466.7,270.1 466.9,269.1 467.0,270.1 467.1,271.2 467.2,272.2 467.1,273.2 467.4,274.2 467.3,275.3 467.5,276.3 467.7,277.4 467.7,278.4 467.8,279.5 467.6,280.6 467.7,281.6 467.7,282.7 467.9,283.8 467.9,284.8 468.1,285.9 468.7,286.7 469.3,287.6 469.9,288.9 470.3,290.2 470.6,290.8 471.0,291.6 471.3,292.5 471.7,293.7 472.3,294.3 472.9,295.0 473.5,296.1 473.7,297.2 473.7,298.2 473.8,299.2 473.6,300.3 473.8,301.4 473.9,302.4 473.8,303.4 474.0,304.5 473.8,305.6 474.0,306.6 474.1,307.6 474.1,308.7 475.3,309.3 475.4,308.3 475.4,307.3 475.8,306.3 475.8,305.3 475.7,304.3 475.9,303.3 477.7,303.3 477.9,304.3 477.9,305.3 478.1,306.3 478.3,307.3 478.4,308.3 478.5,309.3 478.6,310.4 478.9,311.5 479.0,312.6 479.0,313.7 479.2,314.8 479.5,315.9 479.7,314.7 480.2,313.5 480.2,312.3 480.7,311.1 481.3,312.4 481.9,313.2 482.5,314.1 484.3,314.1 484.7,312.6 485.1,312.0 485.5,310.5 486.4,310.2 487.3,309.3 487.3,308.2 487.5,307.2 487.5,306.2 487.6,305.1 487.7,304.1 488.0,303.0 487.9,302.0 488.1,300.9 488.0,299.9 488.0,298.8 488.0,297.8 488.3,296.7 488.0,295.7 488.0,294.6 488.0,293.6 488.2,292.6 488.0,291.5 488.3,290.5 488.3,289.4 488.1,288.4 488.2,287.4 488.3,286.3 488.2,285.3 488.1,284.2 488.3,283.2 488.4,282.1 488.2,281.1 488.7,280.0 489.1,279.3 489.7,280.7 490.3,281.7 491.3,281.1 491.2,280.0 491.5,278.9 491.3,277.9 491.6,276.8 491.2,275.7 491.3,274.6 491.4,273.5 491.5,272.5 491.6,271.4 491.5,270.3 491.4,271.4 491.5,272.5 491.6,273.5 491.6,274.6 492.0,275.7 491.9,276.8 491.8,277.9 491.9,278.9 492.0,280.0 492.1,281.1 492.2,282.1 492.2,283.2 492.4,284.2 492.3,285.2 492.6,286.2 492.8,287.3 492.7,288.3 492.9,289.4 492.8,290.5 493.0,291.6 493.2,292.7 493.0,293.8 493.3,294.9 494.5,293.7 494.7,292.7 494.4,291.7 494.4,290.6 494.4,289.6 494.7,288.6 494.5,287.6 494.7,286.5 494.7,285.5 494.7,284.5 494.9,283.5 494.8,282.4 494.6,281.4 494.8,280.4 494.7,279.4 495.0,278.3 494.8,277.3 494.9,276.3 495.3,275.2 495.7,273.9 495.7,272.9 495.7,271.9 495.8,270.8 495.7,269.8 495.9,268.8 495.9,267.8 496.0,266.7 496.0,265.7 495.8,264.7 496.0,263.7 495.9,262.6 496.1,261.6 496.0,260.6 495.9,259.6 496.1,258.5 496.1,257.5 496.1,256.5 496.3,257.6 496.4,258.7 496.6,259.7 496.8,260.8 496.9,261.9 497.0,262.9 496.9,263.9 497.0,264.9 496.8,265.9 497.1,266.9 496.9,267.9 497.2,268.9 497.1,269.9 497.1,270.9 497.1,271.9 497.2,272.9 497.1,273.9 497.1,274.9 497.3,275.9 497.2,276.9 497.3,277.9 497.3,278.9 497.5,279.9 497.4,280.9 497.2,281.9 497.5,282.9 497.4,283.9 497.4,284.9 497.5,285.9 497.5,286.9 497.7,288.0 497.7,289.0 497.6,290.0 497.8,291.1 497.7,292.1 497.6,293.2 497.8,294.2 497.9,295.2 497.8,296.3 497.8,297.3 498.0,298.5 498.4,299.7 498.7,300.9 498.8,302.0 499.0,303.1 499.1,304.2 499.5,305.3 499.7,306.4 499.6,307.4 499.5,308.5 499.6,309.6 499.6,310.7 499.5,311.7 499.4,312.8 499.5,313.9 499.5,315.0 499.5,316.0 499.5,317.1 499.5,316.0 499.8,314.9 500.0,313.8 500.0,312.6 500.1,311.5 500.4,310.4 500.5,309.3 500.8,310.4 500.8,311.5 501.0,312.6 501.0,313.8 501.0,314.9 501.2,316.0 501.3,317.1 501.4,316.0 501.8,314.9 501.6,313.8 502.0,312.6 501.9,311.5 502.1,310.4 502.3,309.3 502.3,308.3 502.5,307.3 502.5,306.2 502.4,305.2 502.4,304.2 502.4,303.2 502.3,302.2 502.2,301.2 502.4,300.1 502.3,299.1 502.4,298.1 502.5,297.1 502.6,296.1 502.3,295.1 502.6,294.0 502.3,293.0 502.5,292.0 502.6,291.0 502.5,290.0 502.4,289.0 502.6,287.9 502.4,286.9 502.5,285.9 503.5,284.7 503.7,283.6 503.8,282.6 503.8,281.6 503.7,280.5 503.8,279.4 503.8,278.4 504.0,277.4 504.1,276.3 504.7,277.2 505.3,278.1 505.9,279.3 506.3,280.3 506.6,281.6 506.9,282.6 507.3,283.5 508.1,284.3 508.9,285.3 509.1,284.2 509.4,283.2 509.9,282.2 510.1,281.1 510.1,282.1 510.3,283.2 510.3,284.2 510.6,285.2 510.5,286.2 510.8,287.3 510.9,288.3 511.1,287.3 511.2,286.2 511.3,285.2 511.6,284.2 511.9,283.2 511.8,282.1 512.1,281.1 512.5,279.8 512.9,278.8 513.3,277.8 513.7,276.9 514.1,278.1 514.6,278.4 515.0,279.3 515.5,280.5 515.6,281.6 515.7,282.7 515.7,283.8 516.0,284.9 516.0,285.9 516.3,287.0 516.2,288.1 516.4,289.2 516.5,290.3 516.4,291.3 516.4,292.3 516.8,293.3 516.8,294.3 516.7,295.3 516.7,296.3 516.8,297.3 516.7,298.3 516.7,299.3 516.7,300.3 516.8,301.3 516.8,302.3 516.9,303.3 517.3,304.3 517.7,305.1 518.1,306.3 518.2,305.2 518.6,304.1 518.8,303.1 518.8,302.0 519.1,300.9 519.2,299.8 519.2,298.8 519.5,297.7 519.6,296.6 519.5,295.6 519.9,294.5 519.9,293.4 520.2,292.4 520.1,291.3 520.1,290.2 520.0,289.1 520.3,288.0 520.3,286.9 520.2,285.8 520.3,284.7 520.9,283.5 521.5,282.3 521.4,281.3 521.5,280.3 521.7,279.3 521.5,278.3 521.5,277.3 521.7,276.3 521.7,275.3 521.6,274.3 521.6,273.3 521.6,272.3 521.7,271.3 521.8,270.3 521.8,269.3 521.7,268.3 521.6,267.3 521.8,266.3 521.7,265.3 521.9,264.3 521.6,263.3 521.8,262.3 521.8,261.3 521.7,260.3 521.6,259.3 521.7,258.3 521.9,257.3 521.9,256.3 521.7,255.3 521.9,254.3 521.6,253.3 521.8,252.3 522.3,251.3 522.9,249.9 523.0,251.0 523.1,252.1 522.9,253.1 523.0,254.2 523.0,255.3 523.1,256.4 523.2,257.5 523.1,258.5 523.2,259.6 523.3,260.7 523.4,261.9 523.9,263.1 524.3,264.3 524.5,265.5 525.4,266.3 526.3,267.3 526.6,268.3 527.0,269.7 527.3,270.7 527.7,271.5 528.1,272.6 528.5,273.5 528.9,274.7 529.3,275.3 529.7,276.3 529.9,275.2 530.2,274.2 530.3,273.2 530.5,272.1 531.1,271.1 531.7,270.2 532.3,269.1 532.8,268.0 533.3,266.7 533.4,265.7 533.3,264.7 533.3,263.7 533.4,262.7 533.4,261.7 533.4,260.7 533.3,259.7 533.2,258.7 533.4,257.7 533.6,256.7 533.6,255.7 533.5,254.7 533.4,253.7 533.6,252.7 533.6,251.7 533.4,250.7 533.5,249.7 533.5,248.7 534.5,248.1 534.5,249.1 534.4,250.2 534.5,251.2 534.4,252.3 534.7,253.3 534.7,254.4 534.5,255.4 534.5,256.4 534.5,257.5 534.8,258.5 534.6,259.6 534.7,260.6 534.8,261.6 534.6,262.7 534.8,263.7 534.5,264.8 534.5,265.8 534.8,266.9 534.7,267.9 534.6,268.9 534.6,269.9 534.7,270.9 534.8,272.0 534.6,273.0 534.7,274.0 534.7,275.0 534.5,276.0 534.6,277.0 534.5,278.0 534.5,279.1 534.5,280.1 534.5,281.1 534.8,282.1 534.4,283.1 534.6,284.1 534.4,285.1 534.4,286.1 534.7,287.2 534.6,288.2 534.7,289.2 534.6,290.2 534.6,291.2 534.6,292.2 534.4,293.2 534.4,294.3 534.6,295.3 534.7,296.3 534.5,297.3 534.6,298.5 534.9,299.7 535.2,300.9 535.3,302.1 535.8,303.1 536.2,304.1 536.6,304.5 537.1,305.7 537.3,306.9 537.8,308.1 538.1,309.3 538.2,310.3 538.2,311.4 538.2,312.4 538.3,313.4 538.0,314.4 538.1,315.4 538.0,316.5 538.1,317.5 538.3,318.5 538.2,319.6 538.4,320.6 538.1,321.6 538.2,322.6 538.4,323.7 538.2,324.7 538.4,325.7 538.4,326.7 538.4,327.8 538.3,328.8 538.3,329.8 538.5,330.8 538.4,331.9 538.4,332.9 538.6,333.9 538.3,334.9 538.5,336.0 538.4,337.0 538.5,338.0 538.6,339.0 538.6,340.1 538.6,341.1 538.5,342.1"/>
<polyline fill="none" stroke-linejoin="round" stroke-linecap="butt" stroke="#0000ff" stroke-width="1.1" points="354.0,312.9 369.0,312.9 370.5,313.6 371.5,313.6 372.5,312.1 372.6,305.1 373.2,294.7 373.9,293.5 374.7,293.0 375.4,292.1 376.2,291.1 376.4,290.1 376.2,289.1 376.2,288.1 376.4,287.1 376.4,286.1 376.3,285.1 376.5,284.1 376.4,283.1 376.6,282.1 376.4,281.1 376.5,280.1 376.6,279.1 377.0,278.1 377.0,277.1 377.2,276.1 377.6,275.1 377.8,274.1 378.0,273.1 378.4,271.8 378.8,271.0 379.1,270.0 379.5,268.9 379.6,269.9 380.0,270.9 380.0,271.9 380.2,272.9 380.4,273.9 380.7,274.9 381.2,273.6 381.7,273.2 382.2,271.9 382.2,272.9 382.5,274.0 382.4,275.1 382.5,276.2 382.6,277.3 382.6,278.3 382.5,279.4 382.7,280.5 382.8,281.6 382.8,282.7 383.0,283.9 383.3,285.1 383.8,286.2 384.0,287.4 384.8,286.3 385.5,285.1 385.6,286.2 386.0,287.5 386.2,288.7 386.4,287.5 386.8,286.2 387.0,285.1 387.1,284.0 387.0,282.9 387.3,281.8 387.1,280.7 387.2,279.7 387.2,278.6 387.5,277.5 387.3,276.4 387.5,275.3 387.6,274.2 389.4,273.7 389.6,272.5 390.0,271.2 390.3,270.1 390.5,271.1 390.6,272.2 390.7,273.3 390.9,274.4 391.0,275.4 391.3,276.6 391.6,277.8 391.8,279.1 392.2,280.2 392.3,281.3 392.3,282.4 392.6,283.5 392.7,284.6 392.4,285.7 392.6,286.7 392.8,287.8 392.9,288.9 392.8,290.0 393.0,291.1 393.1,292.1 393.3,293.1 393.2,294.1 393.2,295.1 393.4,296.1 393.6,297.1 393.4,298.2 393.5,299.2 393.5,300.2 393.7,301.2 393.8,302.2 393.7,303.2 393.9,304.2 394.0,303.2 393.9,302.1 394.1,301.1 394.5,300.0 394.4,298.9 394.4,297.9 394.8,296.8 394.7,295.7 394.8,294.7 394.8,293.7 394.8,292.7 394.9,291.7 395.0,290.7 395.1,289.7 395.4,288.7 395.3,287.7 395.4,286.7 395.6,285.7 395.8,284.7 395.6,283.7 395.8,282.7 396.2,281.6 396.6,280.2 396.6,279.2 396.7,278.2 396.8,277.1 397.0,276.1 396.9,275.0 396.9,273.9 397.1,272.9 397.0,271.9 397.0,270.8 397.3,269.8 397.2,268.7 397.2,267.7 397.6,268.8 398.0,269.5 398.4,270.7 398.6,271.7 398.5,272.7 398.3,273.7 398.6,274.7 398.4,275.7 398.4,276.7 398.4,277.7 398.3,278.7 398.4,279.7 398.6,280.7 398.4,281.8 398.4,282.8 398.5,283.8 398.5,284.8 398.5,285.8 398.6,286.8 398.5,287.8 398.5,288.8 398.5,289.8 398.5,290.8 398.5,291.8 398.6,292.9 398.5,293.9 398.7,294.9 398.5,295.9 398.7,296.9 398.5,297.9 398.7,298.9 398.7,300.0 398.6,301.0 398.8,302.0 398.7,303.0 398.7,304.0 398.5,305.0 398.6,306.0 398.6,307.1 398.7,308.1 398.8,309.1 398.8,310.1 398.5,311.1 398.8,312.1 398.8,313.1 398.7,314.2 398.6,315.2 398.8,316.2 398.7,317.2 398.9,318.2 398.9,319.2 398.8,320.2 398.9,321.3 398.6,322.3 398.8,323.3 398.7,324.3 398.6,325.3 398.7,326.3 398.8,327.3 398.6,328.4 398.8,329.4 398.9,330.4 398.8,331.4 398.8,332.4 398.7,333.4 398.8,334.4 399.0,333.4 398.8,332.4 398.9,331.4 398.9,330.4 398.7,329.4 399.1,328.4 398.9,327.3 399.1,326.3 399.1,325.3 399.2,324.3 399.2,323.3 399.0,322.3 399.1,321.3 399.0,320.2 399.3,319.2 399.0,318.2 399.0,317.2 399.3,316.2 399.3,315.2 399.3,314.2 399.4,313.2 399.3,312.1 399.4,311.1 399.3,310.1 399.5,309.1 399.2,308.1 399.4,307.1 399.4,306.1 399.5,305.0 399.7,303.9 399.7,302.8 399.9,301.7 400.1,300.6 400.0,299.6 400.8,298.5 401.5,297.7 401.7,298.8 401.9,299.9 402.5,301.0 402.6,302.1 402.9,303.2 402.9,302.2 403.0,301.2 402.9,300.2 403.0,299.1 403.1,298.1 403.1,297.1 403.4,296.1 403.2,295.0 403.2,294.0 403.5,293.0 403.5,291.9 403.3,290.9 403.6,289.9 403.7,288.9 403.7,287.8 403.8,286.8 403.7,285.8 403.8,284.8 403.8,285.8 404.1,286.8 404.1,287.8 404.2,288.9 404.1,289.9 404.3,290.9 404.5,291.9 404.5,293.0 404.7,294.0 404.7,295.0 404.8,296.1 405.1,297.1 405.1,298.1 405.3,299.1 405.6,300.2 405.6,301.2 405.7,302.2 406.1,303.2 406.2,304.2 406.1,305.3 406.5,306.4 406.3,307.5 406.6,308.5 406.6,309.6 406.5,310.7 406.7,311.8 406.8,312.9 407.0,314.0 407.1,315.2 407.2,316.3 407.3,317.4 407.5,316.3 407.9,315.2 407.8,314.0 408.2,312.9 408.3,311.8 408.4,310.5 408.8,309.3 409.0,308.1 409.0,309.2 409.3,310.4 409.6,311.6 409.8,312.8 410.2,311.6 410.2,310.4 410.4,309.2 410.7,308.1 410.7,307.0 410.8,305.9 410.7,304.9 410.7,303.8 410.9,302.7 410.9,301.7 410.8,300.6 410.9,299.6 411.2,298.4 411.5,297.2 411.6,295.9 411.8,294.8 411.7,293.7 411.9,292.7 412.2,291.7 412.1,290.6 412.2,289.6 412.5,288.6 412.4,287.5 412.7,286.5 412.6,285.4 412.8,284.4 412.9,283.4 413.0,282.4 412.9,283.4 413.2,284.4 413.2,285.4 413.4,286.5 413.4,287.5 413.3,288.5 413.6,289.6 413.7,290.6 413.5,291.6 413.7,292.7 413.7,293.7 413.8,294.7 413.9,295.8 414.0,296.8 413.9,297.9 414.0,298.9 413.9,300.0 414.2,301.1 414.2,302.1 414.3,303.2 414.2,304.2 414.4,305.4 414.9,306.6 415.0,307.8 415.4,308.9 416.8,308.1 417.1,309.3 417.3,310.5 417.7,311.8 418.0,312.9 417.8,314.0 418.1,315.1 418.2,316.2 418.3,317.3 418.5,318.4 419.1,319.1 419.8,320.4 420.4,321.2 420.6,322.3 420.4,323.3 420.7,324.3 420.5,325.3 420.5,326.3 420.6,327.3 420.8,328.3 420.8,329.3 420.8,330.3 420.6,331.3 420.8,332.3 420.7,333.3 420.8,334.3 420.9,335.3 421.0,336.4 421.0,335.3 421.0,334.3 421.3,333.3 421.5,332.3 421.6,331.3 421.7,330.3 421.6,329.2 421.6,328.2 422.0,327.2 421.9,326.2 422.0,325.2 422.2,324.2 422.2,323.2 422.3,322.1 422.4,321.1 422.4,320.1 422.5,319.1 422.3,318.1 422.6,317.1 422.5,316.1 422.6,315.0 422.5,314.0 422.5,313.0 422.5,312.0 422.5,311.0 422.8,310.0 422.7,308.9 422.7,307.8 422.8,306.7 423.0,305.5 423.0,304.4 423.2,303.2 423.4,302.1 423.7,301.0 423.9,299.9 424.1,298.8 424.6,297.7 425.1,298.8 425.6,299.6 425.9,298.4 426.0,297.2 426.4,295.9 426.5,294.8 427.0,293.9 427.4,292.7 427.9,291.9 428.6,291.3 429.3,290.1 429.3,289.1 429.5,288.1 429.5,287.1 429.3,286.1 429.6,285.1 429.5,284.1 429.6,283.1 429.8,282.1 429.7,281.1 429.7,280.1 429.8,279.1 430.0,280.2 430.6,281.2 430.7,282.4 431.1,283.5 431.4,284.6 431.7,285.7 433.1,286.7 433.6,287.9 433.9,289.2 434.1,290.4 434.5,289.4 434.6,288.4 435.0,287.3 435.0,286.3 435.3,285.2 435.4,286.3 435.9,287.3 436.0,288.4 436.4,289.4 436.6,290.5 436.3,291.5 436.4,292.5 436.3,293.6 436.4,294.6 436.4,295.6 436.5,296.7 436.3,297.7 436.4,298.7 436.4,299.8 436.6,300.8 436.4,301.8 436.4,302.9 436.6,303.9 436.4,304.9 436.4,306.0 436.5,307.0 436.4,308.0 436.5,309.1 437.1,310.4 437.8,311.4 437.8,310.4 437.9,309.3 438.0,308.2 438.2,307.2 438.2,306.1 438.2,305.1 438.4,304.0 438.5,302.9 438.4,301.9 439.4,303.1 439.6,304.1 439.5,305.1 439.5,306.1 439.5,307.1 439.7,308.1 439.6,309.1 439.7,310.1 439.6,311.1 439.7,312.1 439.6,313.1 439.8,314.1 439.8,315.1 439.8,316.1 440.0,317.1 440.1,318.1 440.3,319.1 440.4,320.1 440.4,321.1 440.3,322.1 440.7,323.1 440.6,324.1 440.5,323.1 440.7,322.1 441.0,321.1 441.1,320.1 441.1,319.1 441.3,318.1 441.1,317.1 441.1,316.1 441.4,315.1 441.5,314.1 441.8,313.1 441.6,312.1 441.9,311.1 442.1,310.1 442.2,309.1 442.2,310.1 442.6,311.1 442.4,312.1 442.5,313.2 442.9,314.2 442.7,315.2 443.0,316.2 443.0,315.2 443.2,314.2 443.4,313.1 443.3,312.1 443.5,311.0 443.7,309.9 443.7,308.9 443.8,307.9 444.0,308.9 443.8,310.0 444.0,311.1 443.9,312.2 444.2,313.3 444.0,314.3 444.1,315.4 444.3,316.5 444.4,317.6 444.4,318.7 444.3,319.7 444.5,320.7 444.3,321.7 444.4,322.7 444.3,323.7 444.6,324.7 444.7,325.7 444.7,326.7 444.5,327.7 444.5,328.7 444.8,329.8 444.8,330.8 444.8,331.8 444.7,332.8 444.9,333.8 444.8,334.8 444.9,335.8 444.8,336.8 444.9,337.8 444.8,338.8 444.8,339.8 444.9,340.9 444.7,341.9 445.0,342.9 444.9,343.9 444.9,344.9 445.1,345.9 445.0,346.9 445.0,347.9 445.2,348.9 445.2,349.9 445.1,350.9 445.2,349.9 445.3,348.8 445.2,347.8 445.5,346.7 445.8,345.6 445.7,344.6 446.0,343.5 445.8,342.4 445.9,341.4 446.0,340.3 446.1,339.2 446.5,338.2 446.7,337.1 446.6,336.1 446.7,335.0 446.6,334.0 446.6,333.0 446.6,332.0 446.5,331.0 446.6,329.9 446.5,328.9 446.7,327.9 446.7,326.9 446.6,325.9 446.8,324.8 446.6,323.8 446.8,322.8 446.7,321.8 446.7,320.8 446.7,319.8 446.7,318.7 446.8,317.7 446.9,316.7 446.7,315.7 446.9,314.7 446.6,313.6 446.9,312.6 446.8,311.6 446.8,310.6 446.6,309.6 446.9,308.5 446.7,307.5 446.7,306.5 446.9,305.5 446.6,304.5 446.8,303.5 446.7,302.4 446.9,301.4 446.7,300.4 446.6,299.4 446.8,298.4 446.8,297.3 446.9,296.3 446.7,295.3 446.7,294.3 446.7,293.3 446.8,292.2 447.0,291.2 447.0,290.2 447.2,289.2 447.5,288.1 447.6,287.1 447.6,286.1 447.8,285.1 447.8,284.0 447.7,283.0 447.8,282.0 447.9,281.0 447.6,279.9 447.9,278.9 447.9,277.9 447.7,276.9 447.7,275.8 447.9,274.8 447.7,273.8 447.7,272.8 447.8,271.7 447.8,270.7 447.7,269.7 447.7,268.7 447.8,267.7 448.1,266.7 448.5,265.7 448.5,264.8 449.0,263.8 449.2,262.9 449.8,261.9 450.4,260.7 451.0,259.9 451.8,258.7 451.8,257.6 452.0,256.6 451.8,255.6 452.0,254.6 452.0,253.6 451.9,252.5 452.1,251.5 452.0,250.5 452.1,249.5 452.2,248.5 453.0,249.7 452.9,250.7 453.1,251.8 453.3,252.8 453.3,253.9 453.4,254.9 453.2,256.0 453.5,257.0 453.4,258.1 454.2,259.2 454.2,260.3 454.3,261.4 454.2,262.4 454.3,263.5 454.2,264.6 454.4,265.7 454.2,266.7 454.3,267.8 454.2,268.9 455.8,269.4 456.4,270.0 457.0,271.2 457.6,271.9 457.6,272.9 457.9,273.9 458.0,275.0 458.2,276.1 458.7,277.2 459.3,278.1 459.8,279.1 459.8,280.1 460.0,281.1 459.7,282.1 459.9,283.1 459.8,284.1 460.0,285.1 459.9,286.1 460.0,287.1 460.3,288.1 460.0,289.2 460.3,290.2 460.3,291.2 460.4,292.2 460.5,293.3 460.3,294.3 460.6,295.3 460.3,296.4 460.4,297.4 460.5,298.4 460.6,299.4 460.8,300.5 460.8,301.6 461.0,302.6 460.9,303.7 461.1,304.7 461.1,305.8 461.5,306.8 461.4,307.9 462.1,308.9 462.7,310.0 463.4,310.9 464.2,309.1 464.2,308.0 464.1,307.0 464.1,306.0 464.2,304.9 464.4,303.9 464.2,302.9 464.3,301.9 464.3,300.8 464.2,299.8 464.3,298.8 464.4,297.7 464.6,296.7 464.5,295.7 464.4,294.6 464.4,293.6 464.4,292.6 464.5,291.6 464.6,290.5 464.7,289.5 464.4,288.5 464.6,287.4 465.2,286.3 465.8,285.7 465.8,284.6 465.9,283.5 465.7,282.5 465.7,281.4 465.9,280.3 465.8,279.2 466.1,278.2 466.0,277.1 466.0,276.1 466.1,275.0 466.3,274.0 466.3,273.0 466.5,271.9 466.3,270.9 466.4,269.9 466.6,268.9 466.7,269.9 466.8,270.9 466.9,271.9 466.8,273.0 467.1,274.0 467.0,275.0 467.2,276.1 467.4,277.1 467.4,278.2 467.5,279.2 467.3,280.3 467.4,281.4 467.4,282.5 467.6,283.5 467.6,284.6 467.8,285.7 468.4,286.4 469.0,287.3 469.6,288.7 470.0,290.0 470.3,290.5 470.7,291.4 471.0,292.2 471.4,293.4 472.0,294.1 472.6,294.8 473.2,295.9 473.4,296.9 473.4,297.9 473.5,299.0 473.3,300.1 473.5,301.1 473.6,302.2 473.5,303.2 473.7,304.2 473.5,305.3 473.7,306.3 473.8,307.4 473.8,308.4 475.0,309.1 475.1,308.1 475.1,307.1 475.5,306.1 475.5,305.1 475.4,304.1 475.6,303.1 477.4,303.1 477.6,304.1 477.6,305.1 477.8,306.1 478.0,307.1 478.1,308.1 478.2,309.1 478.3,310.2 478.6,311.2 478.7,312.4 478.7,313.5 478.9,314.6 479.2,315.7 479.4,314.5 479.9,313.3 479.9,312.1 480.4,310.9 481.0,312.2 481.6,312.9 482.2,313.9 484.0,313.9 484.4,312.3 484.8,311.8 485.2,310.2 486.1,310.0 487.0,309.1 487.0,308.0 487.2,306.9 487.2,305.9 487.3,304.9 487.4,303.8 487.7,302.8 487.6,301.7 487.8,300.7 487.7,299.6 487.7,298.6 487.7,297.5 488.0,296.5 487.7,295.4 487.7,294.4 487.7,293.4 487.9,292.3 487.7,291.3 488.0,290.2 488.0,289.2 487.8,288.1 487.9,287.1 488.0,286.1 487.9,285.0 487.8,284.0 488.0,282.9 488.1,281.9 487.9,280.9 488.4,279.8 488.8,279.1 489.4,280.5 490.0,281.4 491.0,280.9 490.9,279.8 491.2,278.7 491.0,277.6 491.3,276.5 490.9,275.4 491.0,274.4 491.1,273.3 491.2,272.2 491.3,271.1 491.2,270.1 491.1,271.1 491.2,272.2 491.3,273.3 491.3,274.4 491.7,275.4 491.6,276.5 491.5,277.6 491.6,278.7 491.7,279.8 491.8,280.9 491.9,281.9 491.9,282.9 492.1,283.9 492.0,285.0 492.3,286.0 492.5,287.0 492.4,288.1 492.6,289.2 492.5,290.2 492.7,291.4 492.9,292.5 492.7,293.6 493.0,294.7 494.2,293.4 494.4,292.4 494.1,291.4 494.1,290.4 494.1,289.4 494.4,288.3 494.2,287.3 494.4,286.3 494.4,285.3 494.4,284.2 494.6,283.2 494.5,282.2 494.3,281.2 494.5,280.1 494.4,279.1 494.7,278.1 494.5,277.1 494.6,276.1 495.0,275.0 495.4,273.7 495.4,272.6 495.4,271.6 495.5,270.6 495.4,269.6 495.6,268.5 495.6,267.5 495.7,266.5 495.7,265.5 495.5,264.4 495.7,263.4 495.6,262.4 495.8,261.4 495.7,260.3 495.6,259.3 495.8,258.3 495.8,257.3 495.8,256.2 496.0,257.3 496.1,258.4 496.3,259.5 496.5,260.6 496.6,261.7 496.7,262.7 496.6,263.7 496.7,264.7 496.5,265.7 496.8,266.7 496.6,267.7 496.9,268.7 496.8,269.7 496.8,270.7 496.8,271.7 496.9,272.7 496.8,273.7 496.8,274.7 497.0,275.7 496.9,276.7 497.0,277.7 497.0,278.7 497.2,279.7 497.1,280.7 496.9,281.7 497.2,282.7 497.1,283.7 497.1,284.7 497.2,285.7 497.2,286.7 497.4,287.7 497.4,288.8 497.3,289.8 497.5,290.8 497.4,291.9 497.3,292.9 497.5,293.9 497.6,295.0 497.5,296.0 497.5,297.1 497.7,298.2 498.1,299.5 498.4,300.7 498.5,301.8 498.7,302.9 498.8,303.9 499.2,305.1 499.4,306.1 499.3,307.2 499.2,308.3 499.3,309.3 499.3,310.4 499.2,311.5 499.1,312.6 499.2,313.6 499.2,314.7 499.2,315.8 499.2,316.9 499.2,315.7 499.5,314.6 499.7,313.5 499.7,312.4 499.8,311.3 500.1,310.2 500.2,309.1 500.5,310.2 500.5,311.3 500.7,312.4 500.7,313.5 500.7,314.6 500.9,315.7 501.0,316.9 501.1,315.7 501.5,314.6 501.3,313.5 501.7,312.4 501.6,311.3 501.8,310.2 502.0,309.1 502.0,308.0 502.2,307.0 502.2,306.0 502.1,305.0 502.1,304.0 502.1,302.9 502.0,301.9 501.9,300.9 502.1,299.9 502.0,298.9 502.1,297.9 502.2,296.8 502.3,295.8 502.0,294.8 502.3,293.8 502.0,292.8 502.2,291.8 502.3,290.7 502.2,289.7 502.1,288.7 502.3,287.7 502.1,286.7 502.2,285.7 503.2,284.4 503.4,283.4 503.5,282.3 503.5,281.3 503.4,280.2 503.5,279.2 503.5,278.2 503.7,277.1 503.8,276.1 504.4,277.0 505.0,277.8 505.6,279.1 506.0,280.1 506.3,281.4 506.6,282.3 507.0,283.2 507.8,284.0 508.6,285.1 508.8,284.0 509.1,282.9 509.6,281.9 509.8,280.9 509.8,281.9 510.0,282.9 510.0,283.9 510.3,285.0 510.2,286.0 510.5,287.0 510.6,288.1 510.8,287.0 510.9,286.0 511.0,285.0 511.3,283.9 511.6,282.9 511.5,281.9 511.8,280.9 512.2,279.5 512.6,278.6 513.0,277.6 513.4,276.7 513.9,277.8 514.3,278.1 514.8,279.0 515.2,280.2 515.3,281.3 515.4,282.4 515.4,283.5 515.7,284.6 515.7,285.7 516.0,286.8 515.9,287.9 516.1,289.0 516.2,290.1 516.1,291.1 516.1,292.1 516.5,293.1 516.5,294.1 516.4,295.1 516.4,296.1 516.5,297.1 516.4,298.1 516.4,299.1 516.4,300.1 516.5,301.1 516.5,302.1 516.6,303.1 517.0,304.1 517.4,304.9 517.8,306.1 517.9,305.0 518.3,303.9 518.5,302.8 518.5,301.7 518.8,300.7 518.9,299.6 518.9,298.5 519.2,297.5 519.3,296.4 519.2,295.3 519.6,294.2 519.6,293.2 519.9,292.1 519.8,291.1 519.8,289.9 519.7,288.9 520.0,287.8 520.0,286.6 519.9,285.6 520.0,284.4 520.6,283.2 521.2,282.1 521.1,281.1 521.2,280.1 521.4,279.1 521.2,278.1 521.2,277.1 521.4,276.1 521.4,275.1 521.3,274.1 521.3,273.1 521.3,272.1 521.4,271.1 521.5,270.1 521.5,269.1 521.4,268.1 521.3,267.1 521.5,266.1 521.4,265.1 521.6,264.1 521.3,263.1 521.5,262.1 521.5,261.1 521.4,260.1 521.3,259.1 521.4,258.1 521.6,257.1 521.6,256.1 521.4,255.1 521.6,254.1 521.3,253.1 521.5,252.1 522.0,251.0 522.6,249.7 522.7,250.7 522.8,251.8 522.6,252.9 522.7,254.0 522.7,255.1 522.8,256.1 522.9,257.2 522.8,258.3 522.9,259.4 523.0,260.4 523.1,261.6 523.6,262.8 524.0,264.1 524.2,265.2 525.1,266.0 526.0,267.1 526.4,268.1 526.7,269.5 527.0,270.4 527.4,271.2 527.8,272.3 528.2,273.2 528.6,274.5 529.0,275.1 529.4,276.1 529.6,275.0 529.9,273.9 530.0,272.9 530.2,271.9 530.8,270.8 531.4,270.0 532.0,268.9 532.5,267.8 533.0,266.4 533.1,265.4 533.0,264.4 533.0,263.4 533.1,262.4 533.1,261.4 533.1,260.4 533.0,259.4 532.9,258.4 533.1,257.4 533.3,256.4 533.3,255.5 533.2,254.5 533.1,253.5 533.3,252.5 533.3,251.5 533.1,250.5 533.2,249.5 533.2,248.5 534.2,247.9 534.2,248.9 534.1,249.9 534.2,251.0 534.1,252.0 534.4,253.1 534.4,254.1 534.2,255.1 534.2,256.2 534.2,257.2 534.5,258.3 534.3,259.3 534.4,260.4 534.5,261.4 534.3,262.4 534.5,263.5 534.2,264.5 534.2,265.6 534.5,266.6 534.4,267.7 534.3,268.7 534.3,269.7 534.4,270.7 534.5,271.7 534.3,272.7 534.4,273.7 534.4,274.7 534.2,275.8 534.3,276.8 534.2,277.8 534.2,278.8 534.2,279.8 534.2,280.8 534.5,281.8 534.1,282.9 534.3,283.9 534.1,284.9 534.1,285.9 534.4,286.9 534.3,287.9 534.4,288.9 534.3,290.0 534.3,291.0 534.3,292.0 534.1,293.0 534.1,294.0 534.3,295.0 534.4,296.0 534.2,297.1 534.3,298.2 534.6,299.4 534.9,300.7 535.0,301.9 535.5,302.8 535.9,303.8 536.3,304.2 536.8,305.4 537.0,306.6 537.5,307.9 537.8,309.1 537.9,310.1 537.9,311.1 537.9,312.1 538.0,313.2 537.7,314.2 537.8,315.2 537.7,316.2 537.8,317.2 538.0,318.3 537.9,319.3 538.1,320.3 537.8,321.4 537.9,322.4 538.1,323.4 537.9,324.4 538.1,325.4 538.1,326.5 538.1,327.5 538.0,328.5 538.0,329.6 538.2,330.6 538.1,331.6 538.1,332.6 538.3,333.7 538.0,334.7 538.2,335.7 538.1,336.7 538.2,337.8 538.3,338.8 538.3,339.8 538.3,340.8 538.2,341.9"/>
<polyline fill="none" stroke-linejoin="round" stroke-linecap="butt" stroke="#ff0000" stroke-width="1.85" stroke-dasharray="5.4 0.9 1.3 0.9" points="354.0,312.8 369.0,312.8 370.5,313.5 371.5,313.5 372.5,312.0 372.6,305.0 373.2,294.6 373.9,293.4 374.7,292.9 375.4,292.0 376.2,291.0 376.4,290.0 376.2,289.0 376.2,288.0 376.4,287.0 376.4,286.0 376.3,285.0 376.5,284.0 376.4,283.0 376.6,282.0 376.4,281.0 376.5,280.0 376.6,279.0 377.0,278.0 377.0,277.0 377.2,276.0 377.6,275.0 377.8,274.0 378.0,273.0 378.4,271.7 378.8,270.9 379.1,270.0 379.5,268.8 379.6,269.8 380.0,270.8 380.0,271.8 380.2,272.8 380.4,273.8 380.7,274.8 381.2,273.6 381.7,273.1 382.2,271.8 382.2,272.9 382.5,274.0 382.4,275.0 382.5,276.1 382.6,277.2 382.6,278.3 382.5,279.4 382.7,280.4 382.8,281.5 382.8,282.6 383.0,283.8 383.3,285.0 383.8,286.2 384.0,287.4 384.8,286.2 385.5,285.0 385.6,286.2 386.0,287.4 386.2,288.6 386.4,287.4 386.8,286.2 387.0,285.0 387.1,283.9 387.0,282.8 387.3,281.8 387.1,280.7 387.2,279.6 387.2,278.5 387.5,277.4 387.3,276.4 387.5,275.3 387.6,274.2 389.4,273.6 389.6,272.4 390.0,271.2 390.3,270.0 390.5,271.1 390.6,272.2 390.7,273.2 390.9,274.3 391.0,275.4 391.3,276.6 391.6,277.8 391.8,279.0 392.2,280.2 392.3,281.3 392.3,282.4 392.6,283.4 392.7,284.5 392.4,285.6 392.6,286.7 392.8,287.8 392.9,288.8 392.8,289.9 393.0,291.0 393.1,292.0 393.3,293.0 393.2,294.0 393.2,295.1 393.4,296.1 393.6,297.1 393.4,298.1 393.5,299.1 393.5,300.1 393.7,301.2 393.8,302.2 393.7,303.2 393.9,304.2 394.0,303.1 393.9,302.1 394.1,301.0 394.5,299.9 394.4,298.9 394.4,297.8 394.8,296.7 394.7,295.7 394.8,294.6 394.8,293.6 394.8,292.6 394.9,291.6 395.0,290.6 395.1,289.6 395.4,288.6 395.3,287.6 395.4,286.6 395.6,285.6 395.8,284.6 395.6,283.6 395.8,282.6 396.2,281.6 396.6,280.2 396.6,279.1 396.7,278.1 396.8,277.1 397.0,276.0 396.9,274.9 396.9,273.9 397.1,272.9 397.0,271.8 397.0,270.8 397.3,269.7 397.2,268.7 397.2,267.6 397.6,268.8 398.0,269.5 398.4,270.6 398.6,271.6 398.5,272.6 398.3,273.6 398.6,274.6 398.4,275.6 398.4,276.7 398.4,277.7 398.3,278.7 398.4,279.7 398.6,280.7 398.4,281.7 398.4,282.7 398.5,283.7 398.5,284.7 398.5,285.7 398.6,286.7 398.5,287.8 398.5,288.8 398.5,289.8 398.5,290.8 398.5,291.8 398.6,292.8 398.5,293.8 398.7,294.8 398.5,295.8 398.7,296.9 398.5,297.9 398.7,298.9 398.7,299.9 398.6,300.9 398.8,301.9 398.7,302.9 398.7,304.0 398.5,305.0 398.6,306.0 398.6,307.0 398.7,308.0 398.8,309.0 398.8,310.0 398.5,311.1 398.8,312.1 398.8,313.1 398.7,314.1 398.6,315.1 398.8,316.1 398.7,317.2 398.9,318.2 398.9,319.2 398.8,320.2 398.9,321.2 398.6,322.2 398.8,323.2 398.7,324.3 398.6,325.3 398.7,326.3 398.8,327.3 398.6,328.3 398.8,329.3 398.9,330.3 398.8,331.4 398.8,332.4 398.7,333.4 398.8,334.4 399.0,333.4 398.8,332.4 398.9,331.4 398.9,330.3 398.7,329.3 399.1,328.3 398.9,327.3 399.1,326.3 399.1,325.3 399.2,324.3 399.2,323.2 399.0,322.2 399.1,321.2 399.0,320.2 399.3,319.2 399.0,318.2 399.0,317.2 399.3,316.1 399.3,315.1 399.3,314.1 399.4,313.1 399.3,312.1 399.4,311.1 399.3,310.1 399.5,309.0 399.2,308.0 399.4,307.0 399.4,306.0 399.5,304.9 399.7,303.8 399.7,302.8 399.9,301.7 400.1,300.6 400.0,299.5 400.8,298.5 401.5,297.6 401.7,298.7 401.9,299.8 402.5,301.0 402.6,302.1 402.9,303.2 402.9,302.2 403.0,301.1 402.9,300.1 403.0,299.1 403.1,298.1 403.1,297.0 403.4,296.0 403.2,295.0 403.2,293.9 403.5,292.9 403.5,291.9 403.3,290.9 403.6,289.8 403.7,288.8 403.7,287.8 403.8,286.8 403.7,285.7 403.8,284.7 403.8,285.7 404.1,286.8 404.1,287.8 404.2,288.8 404.1,289.8 404.3,290.9 404.5,291.9 404.5,292.9 404.7,293.9 404.7,295.0 404.8,296.0 405.1,297.0 405.1,298.1 405.3,299.1 405.6,300.1 405.6,301.1 405.7,302.1 406.1,303.2 406.2,304.2 406.1,305.3 406.5,306.3 406.3,307.4 406.6,308.5 406.6,309.6 406.5,310.6 406.7,311.7 406.8,312.8 407.0,314.0 407.1,315.1 407.2,316.3 407.3,317.4 407.5,316.3 407.9,315.1 407.8,314.0 408.2,312.8 408.3,311.7 408.4,310.5 408.8,309.2 409.0,308.0 409.0,309.2 409.3,310.4 409.6,311.5 409.8,312.7 410.2,311.5 410.2,310.4 410.4,309.2 410.7,308.0 410.7,306.9 410.8,305.9 410.7,304.8 410.7,303.8 410.9,302.7 410.9,301.6 410.8,300.6 410.9,299.5 411.2,298.3 411.5,297.1 411.6,295.9 411.8,294.7 411.7,293.7 411.9,292.6 412.2,291.6 412.1,290.6 412.2,289.5 412.5,288.5 412.4,287.5 412.7,286.4 412.6,285.4 412.8,284.4 412.9,283.3 413.0,282.3 412.9,283.3 413.2,284.4 413.2,285.4 413.4,286.4 413.4,287.5 413.3,288.5 413.6,289.5 413.7,290.5 413.5,291.6 413.7,292.6 413.7,293.6 413.8,294.7 413.9,295.7 414.0,296.8 413.9,297.8 414.0,298.9 413.9,299.9 414.2,301.0 414.2,302.1 414.3,303.1 414.2,304.2 414.4,305.4 414.9,306.5 415.0,307.7 415.4,308.9 416.8,308.0 417.1,309.2 417.3,310.5 417.7,311.7 418.0,312.8 417.8,313.9 418.1,315.0 418.2,316.2 418.3,317.3 418.5,318.4 419.1,319.0 419.8,320.4 420.4,321.2 420.6,322.2 420.4,323.2 420.7,324.2 420.5,325.2 420.5,326.2 420.6,327.2 420.8,328.2 420.8,329.3 420.8,330.3 420.6,331.3 420.8,332.3 420.7,333.3 420.8,334.3 420.9,335.3 421.0,336.3 421.0,335.3 421.0,334.3 421.3,333.3 421.5,332.2 421.6,331.2 421.7,330.2 421.6,329.2 421.6,328.2 422.0,327.2 421.9,326.1 422.0,325.1 422.2,324.1 422.2,323.1 422.3,322.1 422.4,321.1 422.4,320.1 422.5,319.0 422.3,318.0 422.6,317.0 422.5,316.0 422.6,315.0 422.5,314.0 422.5,313.0 422.5,311.9 422.5,310.9 422.8,309.9 422.7,308.9 422.7,307.8 422.8,306.6 423.0,305.5 423.0,304.3 423.2,303.2 423.4,302.1 423.7,301.0 423.9,299.8 424.1,298.7 424.6,297.6 425.1,298.7 425.6,299.5 425.9,298.3 426.0,297.1 426.4,295.9 426.5,294.7 427.0,293.8 427.4,292.6 427.9,291.9 428.6,291.3 429.3,290.0 429.3,289.0 429.5,288.0 429.5,287.0 429.3,286.0 429.6,285.0 429.5,284.0 429.6,283.0 429.8,282.0 429.7,281.0 429.7,280.0 429.8,279.0 430.0,280.1 430.6,281.2 430.7,282.3 431.1,283.4 431.4,284.5 431.7,285.6 433.1,286.6 433.6,287.9 433.9,289.1 434.1,290.4 434.5,289.4 434.6,288.3 435.0,287.3 435.0,286.2 435.3,285.2 435.4,286.2 435.9,287.3 436.0,288.3 436.4,289.4 436.6,290.4 436.3,291.5 436.4,292.5 436.3,293.5 436.4,294.6 436.4,295.6 436.5,296.6 436.3,297.7 436.4,298.7 436.4,299.7 436.6,300.7 436.4,301.8 436.4,302.8 436.6,303.8 436.4,304.9 436.4,305.9 436.5,306.9 436.4,308.0 436.5,309.0 437.1,310.3 437.8,311.4 437.8,310.3 437.9,309.3 438.0,308.2 438.2,307.1 438.2,306.1 438.2,305.0 438.4,303.9 438.5,302.9 438.4,301.8 439.4,303.0 439.6,304.0 439.5,305.0 439.5,306.0 439.5,307.0 439.7,308.0 439.6,309.0 439.7,310.0 439.6,311.0 439.7,312.0 439.6,313.0 439.8,314.0 439.8,315.0 439.8,316.0 440.0,317.0 440.1,318.0 440.3,319.0 440.4,320.0 440.4,321.0 440.3,322.0 440.7,323.0 440.6,324.0 440.5,323.0 440.7,322.0 441.0,321.0 441.1,320.0 441.1,319.0 441.3,318.0 441.1,317.0 441.1,316.0 441.4,315.0 441.5,314.0 441.8,313.0 441.6,312.0 441.9,311.0 442.1,310.0 442.2,309.0 442.2,310.0 442.6,311.1 442.4,312.1 442.5,313.1 442.9,314.1 442.7,315.2 443.0,316.2 443.0,315.1 443.2,314.1 443.4,313.1 443.3,312.0 443.5,310.9 443.7,309.9 443.7,308.9 443.8,307.8 444.0,308.9 443.8,310.0 444.0,311.0 443.9,312.1 444.2,313.2 444.0,314.3 444.1,315.4 444.3,316.4 444.4,317.5 444.4,318.6 444.3,319.6 444.5,320.6 444.3,321.6 444.4,322.6 444.3,323.6 444.6,324.7 444.7,325.7 444.7,326.7 444.5,327.7 444.5,328.7 444.8,329.7 444.8,330.7 444.8,331.7 444.7,332.7 444.9,333.7 444.8,334.8 444.9,335.8 444.8,336.8 444.9,337.8 444.8,338.8 444.8,339.8 444.9,340.8 444.7,341.8 445.0,342.8 444.9,343.8 444.9,344.8 445.1,345.9 445.0,346.9 445.0,347.9 445.2,348.9 445.2,349.9 445.1,350.9 445.2,349.8 445.3,348.8 445.2,347.7 445.5,346.6 445.8,345.6 445.7,344.5 446.0,343.4 445.8,342.4 445.9,341.3 446.0,340.3 446.1,339.2 446.5,338.1 446.7,337.1 446.6,336.0 446.7,335.0 446.6,334.0 446.6,332.9 446.6,331.9 446.5,330.9 446.6,329.9 446.5,328.9 446.7,327.9 446.7,326.8 446.6,325.8 446.8,324.8 446.6,323.8 446.8,322.8 446.7,321.7 446.7,320.7 446.7,319.7 446.7,318.7 446.8,317.7 446.9,316.6 446.7,315.6 446.9,314.6 446.6,313.6 446.9,312.6 446.8,311.6 446.8,310.5 446.6,309.5 446.9,308.5 446.7,307.5 446.7,306.5 446.9,305.4 446.6,304.4 446.8,303.4 446.7,302.4 446.9,301.4 446.7,300.3 446.6,299.3 446.8,298.3 446.8,297.3 446.9,296.3 446.7,295.3 446.7,294.2 446.7,293.2 446.8,292.2 447.0,291.2 447.0,290.1 447.2,289.1 447.5,288.1 447.6,287.1 447.6,286.0 447.8,285.0 447.8,284.0 447.7,283.0 447.8,281.9 447.9,280.9 447.6,279.9 447.9,278.9 447.9,277.8 447.7,276.8 447.7,275.8 447.9,274.8 447.7,273.7 447.7,272.7 447.8,271.7 447.8,270.7 447.7,269.6 447.7,268.6 447.8,267.6 448.1,266.6 448.5,265.7 448.5,264.7 449.0,263.8 449.2,262.8 449.8,261.8 450.4,260.6 451.0,259.8 451.8,258.6 451.8,257.6 452.0,256.6 451.8,255.5 452.0,254.5 452.0,253.5 451.9,252.5 452.1,251.5 452.0,250.4 452.1,249.4 452.2,248.4 453.0,249.6 452.9,250.7 453.1,251.7 453.3,252.8 453.3,253.8 453.4,254.8 453.2,255.9 453.5,256.9 453.4,258.0 454.2,259.2 454.2,260.3 454.3,261.3 454.2,262.4 454.3,263.5 454.2,264.5 454.4,265.6 454.2,266.7 454.3,267.7 454.2,268.8 455.8,269.4 456.4,270.0 457.0,271.2 457.6,271.8 457.6,272.9 457.9,273.9 458.0,274.9 458.2,276.0 458.7,277.1 459.3,278.1 459.8,279.0 459.8,280.0 460.0,281.0 459.7,282.0 459.9,283.0 459.8,284.0 460.0,285.0 459.9,286.0 460.0,287.1 460.3,288.1 460.0,289.1 460.3,290.1 460.3,291.2 460.4,292.2 460.5,293.2 460.3,294.3 460.6,295.3 460.3,296.3 460.4,297.3 460.5,298.4 460.6,299.4 460.8,300.4 460.8,301.5 461.0,302.6 460.9,303.6 461.1,304.6 461.1,305.7 461.5,306.8 461.4,307.8 462.1,308.8 462.7,309.9 463.4,310.8 464.2,309.0 464.2,308.0 464.1,306.9 464.1,305.9 464.2,304.9 464.4,303.9 464.2,302.8 464.3,301.8 464.3,300.8 464.2,299.7 464.3,298.7 464.4,297.7 464.6,296.7 464.5,295.6 464.4,294.6 464.4,293.6 464.4,292.5 464.5,291.5 464.6,290.5 464.7,289.5 464.4,288.4 464.6,287.4 465.2,286.3 465.8,285.6 465.8,284.5 465.9,283.5 465.7,282.4 465.7,281.3 465.9,280.3 465.8,279.2 466.1,278.1 466.0,277.1 466.0,276.0 466.1,275.0 466.3,273.9 466.3,272.9 466.5,271.9 466.3,270.9 466.4,269.8 466.6,268.8 466.7,269.8 466.8,270.9 466.9,271.9 466.8,272.9 467.1,273.9 467.0,275.0 467.2,276.0 467.4,277.1 467.4,278.1 467.5,279.2 467.3,280.3 467.4,281.3 467.4,282.4 467.6,283.5 467.6,284.5 467.8,285.6 468.4,286.4 469.0,287.3 469.6,288.6 470.0,289.9 470.3,290.5 470.7,291.3 471.0,292.2 471.4,293.4 472.0,294.0 472.6,294.7 473.2,295.8 473.4,296.9 473.4,297.9 473.5,298.9 473.3,300.0 473.5,301.1 473.6,302.1 473.5,303.1 473.7,304.2 473.5,305.2 473.7,306.3 473.8,307.3 473.8,308.4 475.0,309.0 475.1,308.0 475.1,307.0 475.5,306.0 475.5,305.0 475.4,304.0 475.6,303.0 477.4,303.0 477.6,304.0 477.6,305.0 477.8,306.0 478.0,307.0 478.1,308.0 478.2,309.0 478.3,310.1 478.6,311.2 478.7,312.3 478.7,313.4 478.9,314.5 479.2,315.6 479.4,314.4 479.9,313.2 479.9,312.0 480.4,310.8 481.0,312.1 481.6,312.9 482.2,313.8 484.0,313.8 484.4,312.3 484.8,311.7 485.2,310.2 486.1,309.9 487.0,309.0 487.0,307.9 487.2,306.9 487.2,305.9 487.3,304.8 487.4,303.8 487.7,302.7 487.6,301.7 487.8,300.6 487.7,299.6 487.7,298.5 487.7,297.5 488.0,296.4 487.7,295.4 487.7,294.3 487.7,293.3 487.9,292.3 487.7,291.2 488.0,290.2 488.0,289.1 487.8,288.1 487.9,287.1 488.0,286.0 487.9,285.0 487.8,283.9 488.0,282.9 488.1,281.8 487.9,280.8 488.4,279.7 488.8,279.0 489.4,280.4 490.0,281.4 491.0,280.8 490.9,279.7 491.2,278.6 491.0,277.6 491.3,276.5 490.9,275.4 491.0,274.3 491.1,273.2 491.2,272.2 491.3,271.1 491.2,270.0 491.1,271.1 491.2,272.2 491.3,273.2 491.3,274.3 491.7,275.4 491.6,276.5 491.5,277.6 491.6,278.6 491.7,279.7 491.8,280.8 491.9,281.8 491.9,282.9 492.1,283.9 492.0,284.9 492.3,285.9 492.5,287.0 492.4,288.0 492.6,289.1 492.5,290.2 492.7,291.3 492.9,292.4 492.7,293.5 493.0,294.6 494.2,293.4 494.4,292.4 494.1,291.4 494.1,290.3 494.1,289.3 494.4,288.3 494.2,287.3 494.4,286.2 494.4,285.2 494.4,284.2 494.6,283.2 494.5,282.1 494.3,281.1 494.5,280.1 494.4,279.1 494.7,278.0 494.5,277.0 494.6,276.0 495.0,274.9 495.4,273.6 495.4,272.6 495.4,271.6 495.5,270.5 495.4,269.5 495.6,268.5 495.6,267.5 495.7,266.4 495.7,265.4 495.5,264.4 495.7,263.4 495.6,262.3 495.8,261.3 495.7,260.3 495.6,259.3 495.8,258.2 495.8,257.2 495.8,256.2 496.0,257.3 496.1,258.4 496.3,259.4 496.5,260.5 496.6,261.6 496.7,262.6 496.6,263.6 496.7,264.6 496.5,265.6 496.8,266.6 496.6,267.6 496.9,268.6 496.8,269.6 496.8,270.6 496.8,271.6 496.9,272.6 496.8,273.6 496.8,274.6 497.0,275.6 496.9,276.6 497.0,277.6 497.0,278.6 497.2,279.6 497.1,280.6 496.9,281.6 497.2,282.6 497.1,283.6 497.1,284.6 497.2,285.6 497.2,286.6 497.4,287.7 497.4,288.7 497.3,289.7 497.5,290.8 497.4,291.8 497.3,292.9 497.5,293.9 497.6,294.9 497.5,296.0 497.5,297.0 497.7,298.2 498.1,299.4 498.4,300.6 498.5,301.7 498.7,302.8 498.8,303.9 499.2,305.0 499.4,306.1 499.3,307.1 499.2,308.2 499.3,309.3 499.3,310.4 499.2,311.4 499.1,312.5 499.2,313.6 499.2,314.7 499.2,315.7 499.2,316.8 499.2,315.7 499.5,314.6 499.7,313.5 499.7,312.3 499.8,311.2 500.1,310.1 500.2,309.0 500.5,310.1 500.5,311.2 500.7,312.3 500.7,313.5 500.7,314.6 500.9,315.7 501.0,316.8 501.1,315.7 501.5,314.6 501.3,313.5 501.7,312.3 501.6,311.2 501.8,310.1 502.0,309.0 502.0,308.0 502.2,307.0 502.2,305.9 502.1,304.9 502.1,303.9 502.1,302.9 502.0,301.9 501.9,300.9 502.1,299.8 502.0,298.8 502.1,297.8 502.2,296.8 502.3,295.8 502.0,294.8 502.3,293.7 502.0,292.7 502.2,291.7 502.3,290.7 502.2,289.7 502.1,288.7 502.3,287.6 502.1,286.6 502.2,285.6 503.2,284.4 503.4,283.3 503.5,282.3 503.5,281.2 503.4,280.2 503.5,279.1 503.5,278.1 503.7,277.1 503.8,276.0 504.4,276.9 505.0,277.8 505.6,279.0 506.0,280.0 506.3,281.3 506.6,282.3 507.0,283.2 507.8,284.0 508.6,285.0 508.8,283.9 509.1,282.9 509.6,281.9 509.8,280.8 509.8,281.8 510.0,282.9 510.0,283.9 510.3,284.9 510.2,285.9 510.5,287.0 510.6,288.0 510.8,287.0 510.9,285.9 511.0,284.9 511.3,283.9 511.6,282.9 511.5,281.8 511.8,280.8 512.2,279.5 512.6,278.5 513.0,277.5 513.4,276.6 513.9,277.8 514.3,278.1 514.8,279.0 515.2,280.2 515.3,281.3 515.4,282.4 515.4,283.5 515.7,284.6 515.7,285.6 516.0,286.7 515.9,287.8 516.1,288.9 516.2,290.0 516.1,291.0 516.1,292.0 516.5,293.0 516.5,294.0 516.4,295.0 516.4,296.0 516.5,297.0 516.4,298.0 516.4,299.0 516.4,300.0 516.5,301.0 516.5,302.0 516.6,303.0 517.0,304.0 517.4,304.8 517.8,306.0 517.9,304.9 518.3,303.8 518.5,302.8 518.5,301.7 518.8,300.6 518.9,299.5 518.9,298.5 519.2,297.4 519.3,296.3 519.2,295.3 519.6,294.2 519.6,293.1 519.9,292.1 519.8,291.0 519.8,289.9 519.7,288.8 520.0,287.7 520.0,286.6 519.9,285.5 520.0,284.4 520.6,283.2 521.2,282.0 521.1,281.0 521.2,280.0 521.4,279.0 521.2,278.0 521.2,277.0 521.4,276.0 521.4,275.0 521.3,274.0 521.3,273.0 521.3,272.0 521.4,271.0 521.5,270.0 521.5,269.0 521.4,268.0 521.3,267.0 521.5,266.0 521.4,265.0 521.6,264.0 521.3,263.0 521.5,262.0 521.5,261.0 521.4,260.0 521.3,259.0 521.4,258.0 521.6,257.0 521.6,256.0 521.4,255.0 521.6,254.0 521.3,253.0 521.5,252.0 522.0,251.0 522.6,249.6 522.7,250.7 522.8,251.8 522.6,252.8 522.7,253.9 522.7,255.0 522.8,256.1 522.9,257.2 522.8,258.2 522.9,259.3 523.0,260.4 523.1,261.6 523.6,262.8 524.0,264.0 524.2,265.2 525.1,266.0 526.0,267.0 526.4,268.0 526.7,269.4 527.0,270.4 527.4,271.2 527.8,272.3 528.2,273.2 528.6,274.4 529.0,275.0 529.4,276.0 529.6,274.9 529.9,273.9 530.0,272.9 530.2,271.8 530.8,270.8 531.4,269.9 532.0,268.8 532.5,267.7 533.0,266.4 533.1,265.4 533.0,264.4 533.0,263.4 533.1,262.4 533.1,261.4 533.1,260.4 533.0,259.4 532.9,258.4 533.1,257.4 533.3,256.4 533.3,255.4 533.2,254.4 533.1,253.4 533.3,252.4 533.3,251.4 533.1,250.4 533.2,249.4 533.2,248.4 534.2,247.8 534.2,248.8 534.1,249.9 534.2,250.9 534.1,252.0 534.4,253.0 534.4,254.1 534.2,255.1 534.2,256.1 534.2,257.2 534.5,258.2 534.3,259.3 534.4,260.3 534.5,261.3 534.3,262.4 534.5,263.4 534.2,264.5 534.2,265.5 534.5,266.6 534.4,267.6 534.3,268.6 534.3,269.6 534.4,270.6 534.5,271.7 534.3,272.7 534.4,273.7 534.4,274.7 534.2,275.7 534.3,276.7 534.2,277.7 534.2,278.8 534.2,279.8 534.2,280.8 534.5,281.8 534.1,282.8 534.3,283.8 534.1,284.8 534.1,285.8 534.4,286.9 534.3,287.9 534.4,288.9 534.3,289.9 534.3,290.9 534.3,291.9 534.1,292.9 534.1,294.0 534.3,295.0 534.4,296.0 534.2,297.0 534.3,298.2 534.6,299.4 534.9,300.6 535.0,301.8 535.5,302.8 535.9,303.8 536.3,304.2 536.8,305.4 537.0,306.6 537.5,307.8 537.8,309.0 537.9,310.0 537.9,311.1 537.9,312.1 538.0,313.1 537.7,314.1 537.8,315.1 537.7,316.2 537.8,317.2 538.0,318.2 537.9,319.2 538.1,320.3 537.8,321.3 537.9,322.3 538.1,323.4 537.9,324.4 538.1,325.4 538.1,326.4 538.1,327.4 538.0,328.5 538.0,329.5 538.2,330.5 538.1,331.6 538.1,332.6 538.3,333.6 538.0,334.6 538.2,335.7 538.1,336.7 538.2,337.7 538.3,338.7 538.3,339.8 538.3,340.8 538.2,341.8"/>
<polyline fill="none" stroke-linejoin="round" stroke-linecap="butt" stroke="#000" stroke-width="1.7" stroke-dasharray="6.5 1.1 1.4 1.1" points="354.0,277.9 382.0,277.9 403.2,292.3 539.3,292.3"/>
<rect x="343.8" y="226.8" width="195.7" height="154.89999999999998" fill="none" stroke="#000" stroke-width="1.45"/>
<path d="M382.9 381.7v-2.3M382.9 226.8v2.3M422.1 381.7v-2.3M422.1 226.8v2.3M461.2 381.7v-2.3M461.2 226.8v2.3M500.4 381.7v-2.3M500.4 226.8v2.3M343.8 278.0h2.3M539.5 278.0h-2.3M343.8 329.5h2.3M539.5 329.5h-2.3" stroke="#000" stroke-width="1.3" fill="none"/>
<text x="344.2" y="399.5" text-anchor="middle">0</text>
<text x="383.3" y="399.5" text-anchor="middle">10</text>
<text x="422.5" y="399.5" text-anchor="middle">20</text>
<text x="461.6" y="399.5" text-anchor="middle">30</text>
<text x="500.8" y="399.5" text-anchor="middle">40</text>
<text x="539.9" y="399.5" text-anchor="middle">50</text>
<text x="339.1" y="232.0" text-anchor="end" letter-spacing="0.3">48.5</text>
<text x="338.8" y="283.2" text-anchor="end">48</text>
<text x="339.1" y="334.7" text-anchor="end" letter-spacing="0.3">47.5</text>
<text x="338.8" y="387.3" text-anchor="end">47</text>
<g transform="translate(291.3 326.4) rotate(-90)"><text x="-0.3" y="3" font-size="11.5">ω</text><text x="9.3" y="8.4" font-size="11">4</text><text x="14.8" y="0" letter-spacing="0.65">(Hz)</text></g>
<text x="440.5" y="417.4" text-anchor="middle" letter-spacing="0.4">Times(s)</text>
</g>
</svg>
</body>
</html>
